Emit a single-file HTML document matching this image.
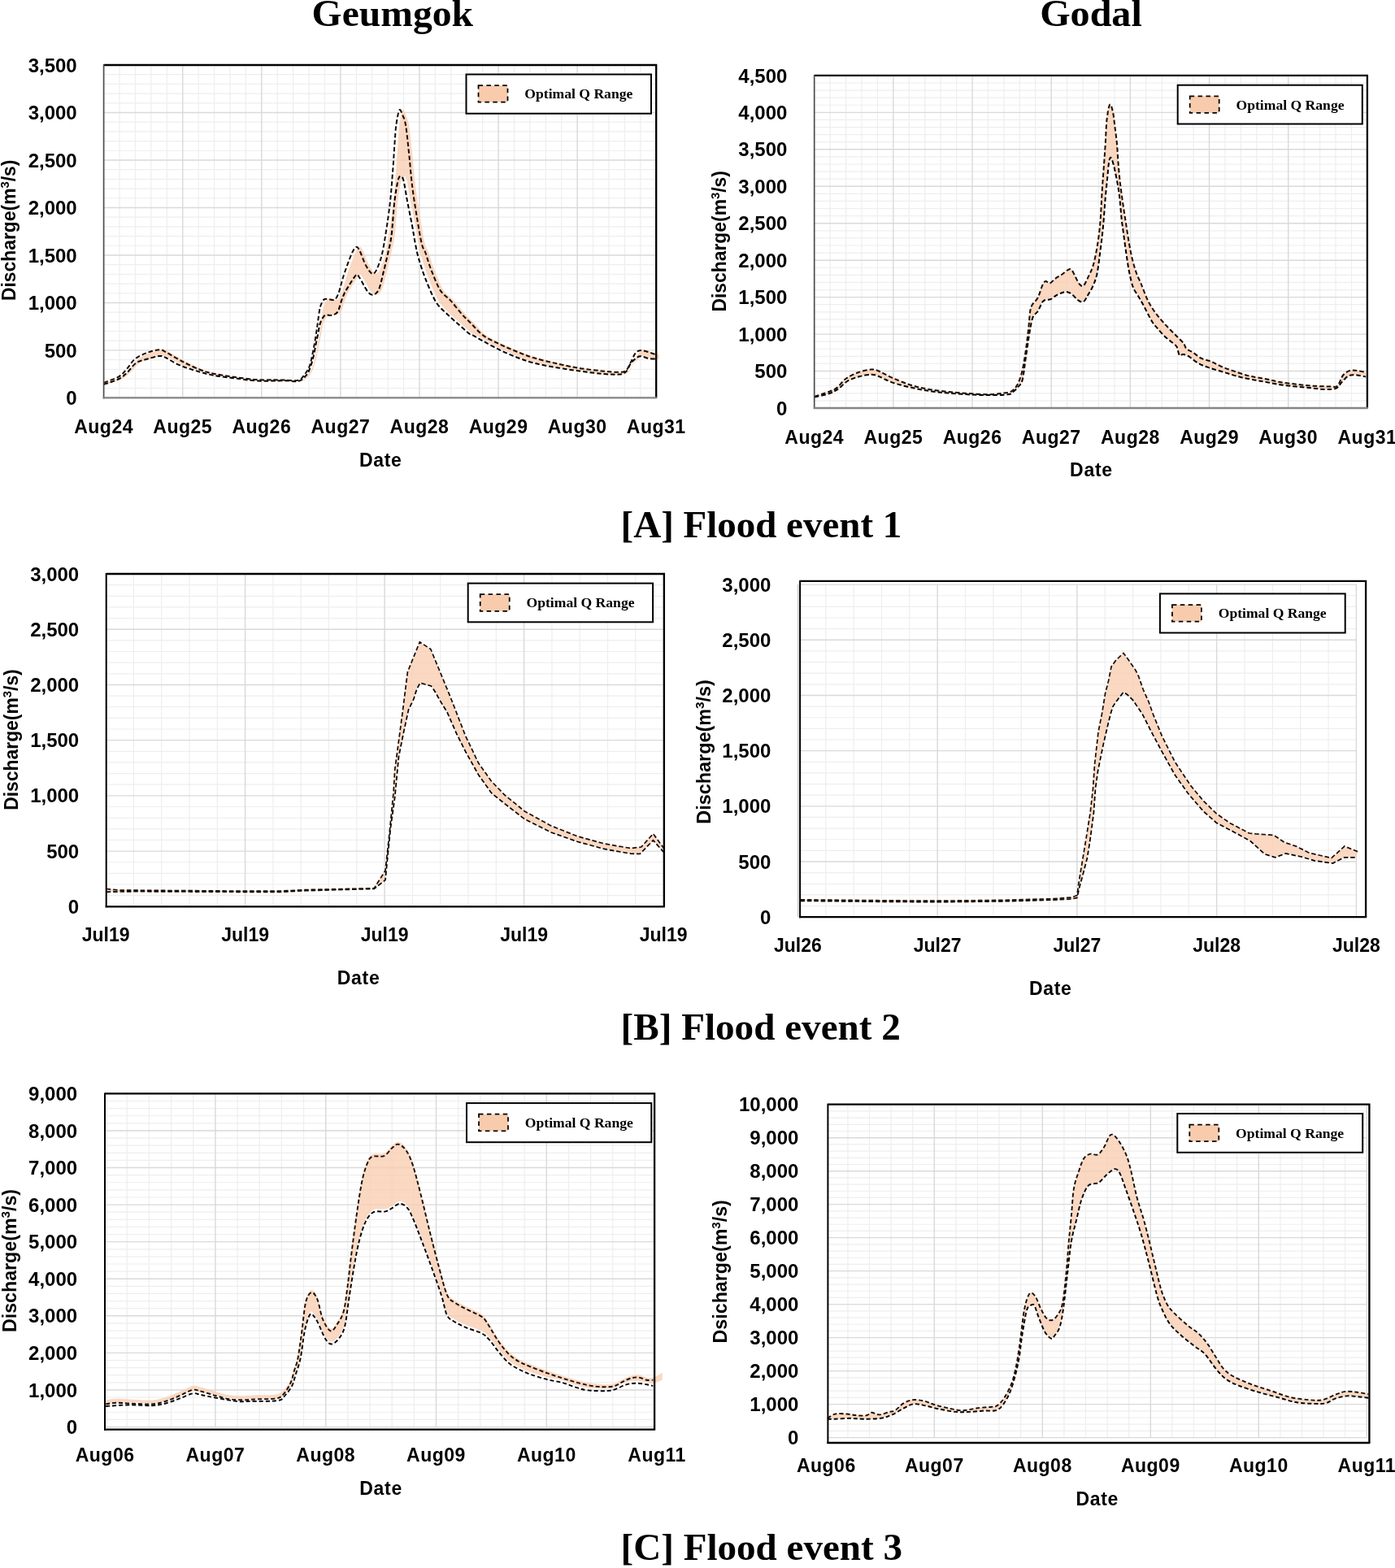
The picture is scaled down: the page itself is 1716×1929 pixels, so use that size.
<!DOCTYPE html><html><head><meta charset="utf-8"><title>Optimal Q Range</title><style>html,body{margin:0;padding:0;background:#fff;overflow:hidden;}svg{display:block;}.s{font-family:"Liberation Sans",Arial,sans-serif;font-weight:bold;font-size:23px;fill:#000}.t{font-family:"Liberation Serif","Times New Roman",serif;font-weight:bold;fill:#000}.lg{font-family:"Liberation Serif","Times New Roman",serif;font-weight:bold;font-size:17.6px;fill:#000}</style></head><body>
<svg width="1716" height="1929" viewBox="0 0 1716 1929">
<rect width="1716" height="1929" fill="#fff"/>
<g class="t">
<text x="383.6" y="32.2" font-size="47" textLength="198.4" lengthAdjust="spacingAndGlyphs">Geumgok</text>
<text x="1279.2" y="32.2" font-size="47" textLength="125.6" lengthAdjust="spacingAndGlyphs">Godal</text>
<text x="763.6" y="660.9" font-size="46" textLength="345.7" lengthAdjust="spacingAndGlyphs">[A] Flood event 1</text>
<text x="763.6" y="1278.7" font-size="46" textLength="344.2" lengthAdjust="spacingAndGlyphs">[B] Flood event 2</text>
<text x="763.6" y="1919.3" font-size="46" textLength="346.4" lengthAdjust="spacingAndGlyphs">[C] Flood event 3</text>
</g>
<g>
<path d="M127.6,477.7H807.2 M127.6,466.01H807.2 M127.6,454.31H807.2 M127.6,442.61H807.2 M127.6,419.22H807.2 M127.6,407.52H807.2 M127.6,395.82H807.2 M127.6,384.13H807.2 M127.6,360.73H807.2 M127.6,349.03H807.2 M127.6,337.34H807.2 M127.6,325.64H807.2 M127.6,302.25H807.2 M127.6,290.55H807.2 M127.6,278.85H807.2 M127.6,267.15H807.2 M127.6,243.76H807.2 M127.6,232.06H807.2 M127.6,220.37H807.2 M127.6,208.67H807.2 M127.6,185.27H807.2 M127.6,173.58H807.2 M127.6,161.88H807.2 M127.6,150.18H807.2 M127.6,126.79H807.2 M127.6,115.09H807.2 M127.6,103.39H807.2 M127.6,91.7H807.2 M147.02,80V489.4 M166.44,80V489.4 M185.85,80V489.4 M205.27,80V489.4 M244.11,80V489.4 M263.53,80V489.4 M282.94,80V489.4 M302.36,80V489.4 M341.2,80V489.4 M360.62,80V489.4 M380.03,80V489.4 M399.45,80V489.4 M438.29,80V489.4 M457.71,80V489.4 M477.12,80V489.4 M496.54,80V489.4 M535.38,80V489.4 M554.8,80V489.4 M574.21,80V489.4 M593.63,80V489.4 M632.47,80V489.4 M651.89,80V489.4 M671.3,80V489.4 M690.72,80V489.4 M729.56,80V489.4 M748.98,80V489.4 M768.39,80V489.4 M787.81,80V489.4" stroke="#eeeeee" stroke-width="1.2" fill="none"/>
<path d="M127.6,489.4H807.2 M127.6,430.91H807.2 M127.6,372.43H807.2 M127.6,313.94H807.2 M127.6,255.46H807.2 M127.6,196.97H807.2 M127.6,138.49H807.2 M127.6,80H807.2 M224.69,80V489.4 M321.78,80V489.4 M418.87,80V489.4 M515.96,80V489.4 M613.05,80V489.4 M710.14,80V489.4 M807.23,80V489.4" stroke="#d9d9d9" stroke-width="1.4" fill="none"/>
<path d="M131.7,470.8 C134.85,469.52 145.82,466 150.6,463.1 C155.38,460.2 157.13,457 160.4,453.4 C163.67,449.8 166.02,444.77 170.2,441.5 C174.38,438.23 180.5,435.67 185.5,433.8 C190.5,431.93 196.47,430.42 200.2,430.3 C203.93,430.18 203.12,430.65 207.9,433.1 C212.68,435.55 221.9,441.38 228.9,445 C235.9,448.62 243.6,452.35 249.9,454.8 C256.2,457.25 259.72,458.2 266.7,459.7 C273.68,461.2 282.95,462.57 291.8,463.8 C300.65,465.03 311.63,466.52 319.8,467.1 C327.97,467.68 335.1,467.22 340.8,467.3 C346.5,467.38 348.88,467.55 354,467.6 C359.12,467.65 367.23,468.95 371.5,467.6 C375.77,466.25 377.42,462.3 379.6,459.5 C381.78,456.7 383.25,454.22 384.6,450.8 C385.95,447.38 386.67,443.57 387.7,439 C388.73,434.43 389.87,428.58 390.8,423.4 C391.73,418.22 392.58,412.57 393.3,407.9 C394.02,403.23 394.48,399.75 395.1,395.4 C395.72,391.05 396.37,385.22 397,381.8 C397.63,378.38 397.97,377.13 398.9,374.9 C399.83,372.67 401.15,369.53 402.6,368.4 C404.05,367.27 405.63,368 407.6,368.1 C409.57,368.2 412.63,369.42 414.4,369 C416.17,368.58 417.05,367.42 418.2,365.6 C419.35,363.78 420.35,360.92 421.3,358.1 C422.25,355.28 422.77,352.58 423.9,348.7 C425.03,344.82 426,340.85 428.1,334.8 C430.2,328.75 434.17,317.53 436.5,312.4 C438.83,307.27 440.47,304.7 442.1,304 C443.73,303.3 444.2,304.23 446.3,308.2 C448.4,312.17 451.9,323.02 454.7,327.8 C457.5,332.58 460.53,337.37 463.1,336.9 C465.67,336.43 468,330.48 470.1,325 C472.2,319.52 473.48,316.02 475.7,304 C477.92,291.98 481.47,268.82 483.4,252.9 C485.33,236.98 486.32,220.82 487.3,208.5 C488.28,196.18 488.63,188.03 489.3,179 C489.97,169.97 490.32,161.53 491.3,154.3 C492.28,147.07 493.88,137.73 495.2,135.6 C496.52,133.47 497.88,138.38 499.2,141.5 C500.52,144.62 501.78,146.42 503.1,154.3 C504.42,162.18 505.78,176.48 507.1,188.8 C508.42,201.12 509.37,215.07 511,228.2 C512.63,241.33 514.93,255.63 516.9,267.6 C518.87,279.57 521.05,292.77 522.8,300 C524.55,307.23 525.47,305.67 527.4,311 C529.33,316.33 531.37,324.32 534.4,332 C537.43,339.68 541.63,350.82 545.6,357.1 C549.57,363.38 553.77,364.8 558.2,369.7 C562.63,374.6 567.9,381.72 572.2,386.5 C576.5,391.28 579.7,394.08 584,398.4 C588.3,402.72 592.17,408.2 598,412.4 C603.83,416.6 612,420.22 619,423.6 C626,426.98 633.02,429.92 640,432.7 C646.98,435.48 652.75,437.87 660.9,440.3 C669.05,442.73 679.57,445.2 688.9,447.3 C698.23,449.4 707.58,451.38 716.9,452.9 C726.22,454.42 736.65,455.58 744.8,456.4 C752.95,457.22 760.9,457.92 765.8,457.8 C770.7,457.68 771.87,457.68 774.2,455.7 C776.53,453.72 777.93,449.38 779.8,445.9 C781.67,442.42 783.53,437.23 785.4,434.8 C787.27,432.37 788.9,431.77 791,431.3 C793.1,430.83 794.73,431.18 798,432 C801.27,432.82 808.5,435.5 810.6,436.2 L810.6,441.7 C809.2,441.58 805.23,441.57 802.2,441 C799.17,440.43 794.97,438.42 792.4,438.3 C789.83,438.18 788.9,438.8 786.8,440.3 C784.7,441.8 781.9,444.5 779.8,447.3 C777.7,450.1 776.53,454.88 774.2,457.1 C771.87,459.32 770.7,460.13 765.8,460.6 C760.9,461.07 752.95,460.6 744.8,459.9 C736.65,459.2 726.22,457.68 716.9,456.4 C707.58,455.12 698.23,453.83 688.9,452.2 C679.57,450.57 669.05,448.68 660.9,446.6 C652.75,444.52 646.98,442.37 640,439.7 C633.02,437.03 626,433.98 619,430.6 C612,427.22 603.83,422.58 598,419.4 C592.17,416.22 586.9,413.07 584,411.5 C581.1,409.93 583.5,412.3 580.6,410 C577.7,407.7 571.27,401.85 566.6,397.7 C561.93,393.55 557.03,389.53 552.6,385.1 C548.17,380.67 544.2,378.1 540,371.1 C535.8,364.1 530.9,351.95 527.4,343.1 C523.9,334.25 521.08,325.18 519,318 C516.92,310.82 516.23,306.75 514.9,300 C513.57,293.25 512.63,286.18 511,277.5 C509.37,268.82 506.9,257.27 505.1,247.9 C503.3,238.53 501.68,226.47 500.2,221.3 C498.72,216.13 497.35,216.57 496.2,216.9 C495.05,217.23 494.45,218.13 493.3,223.3 C492.15,228.47 490.6,236.78 489.3,247.9 C488,259.02 486.83,279.48 485.5,290 C484.17,300.52 482.93,303.53 481.3,311 C479.67,318.47 477.57,327.35 475.7,334.8 C473.83,342.25 472.2,351.05 470.1,355.7 C468,360.35 465.43,362.23 463.1,362.7 C460.77,363.17 458.9,362 456.1,358.5 C453.3,355 448.63,345.07 446.3,341.7 C443.97,338.33 444.43,336.43 442.1,338.3 C439.77,340.17 434.73,349.08 432.3,352.9 C429.87,356.72 428.92,358.25 427.5,361.2 C426.08,364.15 424.95,367.28 423.8,370.6 C422.65,373.92 421.65,378.62 420.6,381.1 C419.55,383.58 419.05,384.35 417.5,385.5 C415.95,386.65 413.37,387.68 411.3,388 C409.23,388.32 406.75,386.98 405.1,387.4 C403.45,387.82 402.65,388.63 401.4,390.5 C400.15,392.37 398.65,395.18 397.6,398.6 C396.55,402.02 395.93,406.87 395.1,411 C394.27,415.13 393.53,418.73 392.6,423.4 C391.67,428.07 390.63,434.32 389.5,439 C388.37,443.68 387.15,447.87 385.8,451.5 C384.45,455.13 383.78,457.9 381.4,460.8 C379.02,463.7 376.07,467.65 371.5,468.9 C366.93,470.15 362.62,468.37 354,468.3 C345.38,468.23 330.17,469.02 319.8,468.5 C309.43,467.98 300.65,466.33 291.8,465.2 C282.95,464.07 273.68,462.97 266.7,461.7 C259.72,460.43 256.9,459.68 249.9,457.6 C242.9,455.52 231.7,452.13 224.7,449.2 C217.7,446.27 211.98,441.87 207.9,440 C203.82,438.13 203.93,437.75 200.2,438 C196.47,438.25 190.27,440.1 185.5,441.5 C180.73,442.9 175.78,443.6 171.6,446.4 C167.42,449.2 163.9,455.03 160.4,458.3 C156.9,461.57 155.38,463.57 150.6,466 C145.82,468.43 134.85,471.75 131.7,472.9 Z" fill="#F8CBAD" fill-opacity="0.75" stroke="none"/>
<path d="M127.7,472.9 C130.85,471.75 141.82,468.43 146.6,466 C151.38,463.57 152.9,461.57 156.4,458.3 C159.9,455.03 163.42,449.2 167.6,446.4 C171.78,443.6 176.73,442.9 181.5,441.5 C186.27,440.1 192.47,438.25 196.2,438 C199.93,437.75 199.82,438.13 203.9,440 C207.98,441.87 213.7,446.27 220.7,449.2 C227.7,452.13 238.9,455.52 245.9,457.6 C252.9,459.68 255.72,460.43 262.7,461.7 C269.68,462.97 278.95,464.07 287.8,465.2 C296.65,466.33 305.43,467.98 315.8,468.5 C326.17,469.02 341.38,468.23 350,468.3 C358.62,468.37 362.93,470.15 367.5,468.9 C372.07,467.65 375.02,463.7 377.4,460.8 C379.78,457.9 380.45,455.13 381.8,451.5 C383.15,447.87 384.37,443.68 385.5,439 C386.63,434.32 387.67,428.07 388.6,423.4 C389.53,418.73 390.27,415.13 391.1,411 C391.93,406.87 392.55,402.02 393.6,398.6 C394.65,395.18 396.15,392.37 397.4,390.5 C398.65,388.63 399.45,387.82 401.1,387.4 C402.75,386.98 405.23,388.32 407.3,388 C409.37,387.68 411.95,386.65 413.5,385.5 C415.05,384.35 415.55,383.58 416.6,381.1 C417.65,378.62 418.65,373.92 419.8,370.6 C420.95,367.28 422.08,364.15 423.5,361.2 C424.92,358.25 425.87,356.72 428.3,352.9 C430.73,349.08 435.77,340.17 438.1,338.3 C440.43,336.43 439.97,338.33 442.3,341.7 C444.63,345.07 449.3,355 452.1,358.5 C454.9,362 456.77,363.17 459.1,362.7 C461.43,362.23 464,360.35 466.1,355.7 C468.2,351.05 469.83,342.25 471.7,334.8 C473.57,327.35 475.67,318.47 477.3,311 C478.93,303.53 480.17,300.52 481.5,290 C482.83,279.48 484,259.02 485.3,247.9 C486.6,236.78 488.15,228.47 489.3,223.3 C490.45,218.13 491.05,217.23 492.2,216.9 C493.35,216.57 494.72,216.13 496.2,221.3 C497.68,226.47 499.3,238.53 501.1,247.9 C502.9,257.27 505.37,268.82 507,277.5 C508.63,286.18 509.57,293.25 510.9,300 C512.23,306.75 512.92,310.82 515,318 C517.08,325.18 519.9,334.25 523.4,343.1 C526.9,351.95 531.8,364.1 536,371.1 C540.2,378.1 544.17,380.67 548.6,385.1 C553.03,389.53 557.93,393.55 562.6,397.7 C567.27,401.85 573.7,407.7 576.6,410 C579.5,412.3 577.1,409.93 580,411.5 C582.9,413.07 588.17,416.22 594,419.4 C599.83,422.58 608,427.22 615,430.6 C622,433.98 629.02,437.03 636,439.7 C642.98,442.37 648.75,444.52 656.9,446.6 C665.05,448.68 675.57,450.57 684.9,452.2 C694.23,453.83 703.58,455.12 712.9,456.4 C722.22,457.68 732.65,459.2 740.8,459.9 C748.95,460.6 756.9,461.07 761.8,460.6 C766.7,460.13 767.87,459.32 770.2,457.1 C772.53,454.88 773.7,450.1 775.8,447.3 C777.9,444.5 780.7,441.8 782.8,440.3 C784.9,438.8 785.83,438.18 788.4,438.3 C790.97,438.42 795.17,440.43 798.2,441 C801.23,441.57 805.2,441.58 806.6,441.7" fill="none" stroke="#000" stroke-width="2.0" stroke-dasharray="5.5 3"/>
<path d="M127.7,470.8 C130.85,469.52 141.82,466 146.6,463.1 C151.38,460.2 153.13,457 156.4,453.4 C159.67,449.8 162.02,444.77 166.2,441.5 C170.38,438.23 176.5,435.67 181.5,433.8 C186.5,431.93 192.47,430.42 196.2,430.3 C199.93,430.18 199.12,430.65 203.9,433.1 C208.68,435.55 217.9,441.38 224.9,445 C231.9,448.62 239.6,452.35 245.9,454.8 C252.2,457.25 255.72,458.2 262.7,459.7 C269.68,461.2 278.95,462.57 287.8,463.8 C296.65,465.03 307.63,466.52 315.8,467.1 C323.97,467.68 331.1,467.22 336.8,467.3 C342.5,467.38 344.88,467.55 350,467.6 C355.12,467.65 363.23,468.95 367.5,467.6 C371.77,466.25 373.42,462.3 375.6,459.5 C377.78,456.7 379.25,454.22 380.6,450.8 C381.95,447.38 382.67,443.57 383.7,439 C384.73,434.43 385.87,428.58 386.8,423.4 C387.73,418.22 388.58,412.57 389.3,407.9 C390.02,403.23 390.48,399.75 391.1,395.4 C391.72,391.05 392.37,385.22 393,381.8 C393.63,378.38 393.97,377.13 394.9,374.9 C395.83,372.67 397.15,369.53 398.6,368.4 C400.05,367.27 401.63,368 403.6,368.1 C405.57,368.2 408.63,369.42 410.4,369 C412.17,368.58 413.05,367.42 414.2,365.6 C415.35,363.78 416.35,360.92 417.3,358.1 C418.25,355.28 418.77,352.58 419.9,348.7 C421.03,344.82 422,340.85 424.1,334.8 C426.2,328.75 430.17,317.53 432.5,312.4 C434.83,307.27 436.47,304.7 438.1,304 C439.73,303.3 440.2,304.23 442.3,308.2 C444.4,312.17 447.9,323.02 450.7,327.8 C453.5,332.58 456.53,337.37 459.1,336.9 C461.67,336.43 464,330.48 466.1,325 C468.2,319.52 469.48,316.02 471.7,304 C473.92,291.98 477.47,268.82 479.4,252.9 C481.33,236.98 482.32,220.82 483.3,208.5 C484.28,196.18 484.63,188.03 485.3,179 C485.97,169.97 486.32,161.53 487.3,154.3 C488.28,147.07 489.88,137.73 491.2,135.6 C492.52,133.47 493.88,138.38 495.2,141.5 C496.52,144.62 497.78,146.42 499.1,154.3 C500.42,162.18 501.78,176.48 503.1,188.8 C504.42,201.12 505.37,215.07 507,228.2 C508.63,241.33 510.93,255.63 512.9,267.6 C514.87,279.57 517.05,292.77 518.8,300 C520.55,307.23 521.47,305.67 523.4,311 C525.33,316.33 527.37,324.32 530.4,332 C533.43,339.68 537.63,350.82 541.6,357.1 C545.57,363.38 549.77,364.8 554.2,369.7 C558.63,374.6 563.9,381.72 568.2,386.5 C572.5,391.28 575.7,394.08 580,398.4 C584.3,402.72 588.17,408.2 594,412.4 C599.83,416.6 608,420.22 615,423.6 C622,426.98 629.02,429.92 636,432.7 C642.98,435.48 648.75,437.87 656.9,440.3 C665.05,442.73 675.57,445.2 684.9,447.3 C694.23,449.4 703.58,451.38 712.9,452.9 C722.22,454.42 732.65,455.58 740.8,456.4 C748.95,457.22 756.9,457.92 761.8,457.8 C766.7,457.68 767.87,457.68 770.2,455.7 C772.53,453.72 773.93,449.38 775.8,445.9 C777.67,442.42 779.53,437.23 781.4,434.8 C783.27,432.37 784.9,431.77 787,431.3 C789.1,430.83 790.73,431.18 794,432 C797.27,432.82 804.5,435.5 806.6,436.2" fill="none" stroke="#1a0d05" stroke-width="2.0" stroke-dasharray="5.5 3"/>
<path d="M127.6,80H807.2V489.4" fill="none" stroke="#000" stroke-width="2.3"/>
<path d="M127.6,79V490.4" fill="none" stroke="#4d4d4d" stroke-width="1.7"/>
<path d="M126.6,489.4H808.2" fill="none" stroke="#858585" stroke-width="2.3"/>
<rect x="573.5" y="91.5" width="227.5" height="48.2" fill="#fff" stroke="#000" stroke-width="2"/>
<rect x="588.5" y="105.1" width="36" height="20.6" fill="#F8CBAD" stroke="#000" stroke-width="1.75" stroke-dasharray="5.5 4.4"/>
<text class="lg" x="645.3" y="121.3" textLength="133" lengthAdjust="spacingAndGlyphs">Optimal Q Range</text>
<g class="s" style="font-size:24px" text-anchor="end"><text x="94.7" y="498">0</text><text x="94.7" y="439.51">500</text><text x="94.7" y="381.03">1,000</text><text x="94.7" y="322.54">1,500</text><text x="94.7" y="264.06">2,000</text><text x="94.7" y="205.57">2,500</text><text x="94.7" y="147.09">3,000</text><text x="94.7" y="88.6">3,500</text></g>
<g class="s" text-anchor="middle" style="letter-spacing:0.5px"><text x="127.6" y="532.6">Aug24</text><text x="224.69" y="532.6">Aug25</text><text x="321.78" y="532.6">Aug26</text><text x="418.87" y="532.6">Aug27</text><text x="515.96" y="532.6">Aug28</text><text x="613.05" y="532.6">Aug29</text><text x="710.14" y="532.6">Aug30</text><text x="807.23" y="532.6">Aug31</text></g>
<text class="s" x="468.25" y="573.7" text-anchor="middle" style="letter-spacing:0.7px">Date</text>
<text class="s" transform="translate(19.2,283.3) rotate(-90)" text-anchor="middle" textLength="173.5" lengthAdjust="spacingAndGlyphs">Discharge(m<tspan font-size="15" dy="-8">3</tspan><tspan dy="8">/s)</tspan></text>
</g>
<g>
<path d="M1001.7,492.91H1681.9 M1001.7,483.82H1681.9 M1001.7,474.73H1681.9 M1001.7,465.64H1681.9 M1001.7,447.45H1681.9 M1001.7,438.36H1681.9 M1001.7,429.27H1681.9 M1001.7,420.18H1681.9 M1001.7,402H1681.9 M1001.7,392.91H1681.9 M1001.7,383.82H1681.9 M1001.7,374.72H1681.9 M1001.7,356.54H1681.9 M1001.7,347.45H1681.9 M1001.7,338.36H1681.9 M1001.7,329.27H1681.9 M1001.7,311.09H1681.9 M1001.7,302H1681.9 M1001.7,292.9H1681.9 M1001.7,283.81H1681.9 M1001.7,265.63H1681.9 M1001.7,256.54H1681.9 M1001.7,247.45H1681.9 M1001.7,238.36H1681.9 M1001.7,220.18H1681.9 M1001.7,211.08H1681.9 M1001.7,201.99H1681.9 M1001.7,192.9H1681.9 M1001.7,174.72H1681.9 M1001.7,165.63H1681.9 M1001.7,156.54H1681.9 M1001.7,147.45H1681.9 M1001.7,129.26H1681.9 M1001.7,120.17H1681.9 M1001.7,111.08H1681.9 M1001.7,101.99H1681.9 M1021.13,92.9V502 M1040.57,92.9V502 M1060,92.9V502 M1079.44,92.9V502 M1118.3,92.9V502 M1137.74,92.9V502 M1157.17,92.9V502 M1176.61,92.9V502 M1215.47,92.9V502 M1234.91,92.9V502 M1254.34,92.9V502 M1273.78,92.9V502 M1312.64,92.9V502 M1332.08,92.9V502 M1351.51,92.9V502 M1370.95,92.9V502 M1409.81,92.9V502 M1429.25,92.9V502 M1448.68,92.9V502 M1468.12,92.9V502 M1506.98,92.9V502 M1526.42,92.9V502 M1545.85,92.9V502 M1565.29,92.9V502 M1604.15,92.9V502 M1623.59,92.9V502 M1643.02,92.9V502 M1662.46,92.9V502" stroke="#eeeeee" stroke-width="1.2" fill="none"/>
<path d="M1001.7,502H1681.9 M1001.7,456.54H1681.9 M1001.7,411.09H1681.9 M1001.7,365.63H1681.9 M1001.7,320.18H1681.9 M1001.7,274.72H1681.9 M1001.7,229.27H1681.9 M1001.7,183.81H1681.9 M1001.7,138.36H1681.9 M1001.7,92.9H1681.9 M1098.87,92.9V502 M1196.04,92.9V502 M1293.21,92.9V502 M1390.38,92.9V502 M1487.55,92.9V502 M1584.72,92.9V502 M1681.89,92.9V502" stroke="#d9d9d9" stroke-width="1.4" fill="none"/>
<path d="M1002,487.7 C1004.92,486.75 1014.95,483.77 1019.5,482 C1024.05,480.23 1025.77,479.82 1029.3,477.1 C1032.83,474.38 1036.35,468.83 1040.7,465.7 C1045.05,462.57 1050.23,460.15 1055.4,458.3 C1060.57,456.45 1067.35,454.87 1071.7,454.6 C1076.05,454.33 1077.15,454.98 1081.5,456.7 C1085.85,458.42 1091.28,462.05 1097.8,464.9 C1104.32,467.75 1113.27,471.5 1120.6,473.8 C1127.93,476.1 1134.18,477.33 1141.8,478.7 C1149.42,480.07 1158.13,481.12 1166.3,482 C1174.47,482.88 1182.63,483.45 1190.8,484 C1198.97,484.55 1207.97,485.37 1215.3,485.3 C1222.63,485.23 1229.92,484.28 1234.8,483.6 C1239.68,482.92 1241.87,482.83 1244.6,481.2 C1247.33,479.57 1249.22,477.33 1251.2,473.8 C1253.18,470.27 1254.95,465.63 1256.5,460 C1258.05,454.37 1259.12,448.73 1260.5,440 C1261.88,431.27 1263.68,417.1 1264.8,407.6 C1265.92,398.1 1266.38,388.42 1267.2,383 C1268.02,377.58 1268.13,377.88 1269.7,375.1 C1271.27,372.32 1274.47,370.4 1276.6,366.3 C1278.73,362.2 1280.85,353.87 1282.5,350.5 C1284.15,347.13 1285.02,346.43 1286.5,346.1 C1287.98,345.77 1289.43,349.08 1291.4,348.5 C1293.37,347.92 1295.83,344.4 1298.3,342.6 C1300.77,340.8 1303.73,339.42 1306.2,337.7 C1308.67,335.98 1311.13,333.28 1313.1,332.3 C1315.07,331.32 1316.37,330.42 1318,331.8 C1319.63,333.18 1321.27,337.65 1322.9,340.6 C1324.53,343.55 1326.15,347.68 1327.8,349.5 C1329.45,351.32 1330.98,352.98 1332.8,351.5 C1334.62,350.02 1336.73,344.72 1338.7,340.6 C1340.67,336.48 1342.8,332.87 1344.6,326.8 C1346.4,320.73 1348.05,312.83 1349.5,304.2 C1350.95,295.57 1352.27,286.63 1353.3,275 C1354.33,263.37 1354.9,246.7 1355.7,234.4 C1356.5,222.1 1357.42,210.88 1358.1,201.2 C1358.78,191.52 1359.23,185.28 1359.8,176.3 C1360.37,167.32 1360.6,155.23 1361.5,147.3 C1362.4,139.37 1363.97,130.35 1365.2,128.7 C1366.43,127.05 1367.87,132.92 1368.9,137.4 C1369.93,141.88 1370.57,149.12 1371.4,155.6 C1372.23,162.08 1373.2,168.7 1373.9,176.3 C1374.6,183.9 1374.92,192.9 1375.6,201.2 C1376.28,209.5 1377.03,217.8 1378,226.1 C1378.97,234.4 1380.23,242.92 1381.4,251 C1382.57,259.08 1383.75,266.55 1385,274.6 C1386.25,282.65 1387.58,291.9 1388.9,299.3 C1390.22,306.7 1391.42,312.93 1392.9,319 C1394.38,325.07 1396.17,331.03 1397.8,335.7 C1399.43,340.37 1401.4,343.95 1402.7,347 C1404,350.05 1404.18,350.5 1405.6,354 C1407.02,357.5 1409.03,363.5 1411.2,368 C1413.37,372.5 1415.8,376.82 1418.6,381 C1421.4,385.18 1424.88,389.37 1428,393.1 C1431.12,396.83 1434.2,400.13 1437.3,403.4 C1440.4,406.67 1443.8,409.9 1446.6,412.7 C1449.4,415.5 1452.38,418.33 1454.1,420.2 C1455.82,422.07 1455.97,422.35 1456.9,423.9 C1457.83,425.45 1458,427.95 1459.7,429.5 C1461.4,431.05 1464.15,431.33 1467.1,433.2 C1470.05,435.07 1473.58,438.77 1477.4,440.7 C1481.22,442.63 1485.8,443.08 1490,444.8 C1494.2,446.52 1497.93,449.03 1502.6,451 C1507.27,452.97 1512.57,454.75 1518,456.6 C1523.43,458.45 1530.53,460.82 1535.2,462.1 C1539.87,463.38 1541.87,463.52 1546,464.3 C1550.13,465.08 1555.35,465.87 1560,466.8 C1564.65,467.73 1568.08,468.92 1573.9,469.9 C1579.72,470.88 1587.9,471.88 1594.9,472.7 C1601.9,473.52 1608.92,474.33 1615.9,474.8 C1622.88,475.27 1631.92,475.5 1636.8,475.5 C1641.68,475.5 1642.63,477.13 1645.2,474.8 C1647.77,472.47 1649.63,464.65 1652.2,461.5 C1654.77,458.35 1657.8,456.83 1660.6,455.9 C1663.4,454.97 1665.73,455.55 1669,455.9 C1672.27,456.25 1678.33,457.65 1680.2,458 L1680.2,463.6 C1678.33,463.25 1672.5,461.73 1669,461.5 C1665.5,461.27 1662.23,460.8 1659.2,462.2 C1656.17,463.6 1653.37,467.33 1650.8,469.9 C1648.23,472.47 1647.3,476.08 1643.8,477.6 C1640.3,479.12 1635.62,479.12 1629.8,479 C1623.98,478.88 1617.05,477.72 1608.9,476.9 C1600.75,476.08 1589.05,475.17 1580.9,474.1 C1572.75,473.03 1566.07,471.57 1560,470.5 C1553.93,469.43 1550.18,468.78 1544.5,467.7 C1538.82,466.62 1532.12,465.55 1525.9,464 C1519.68,462.45 1513.42,460.27 1507.2,458.4 C1500.98,456.53 1494.03,454.67 1488.6,452.8 C1483.17,450.93 1479.12,449.68 1474.6,447.2 C1470.08,444.72 1464.77,439.77 1461.5,437.9 C1458.23,436.03 1456.78,436.15 1455,436 C1453.22,435.85 1452.03,438.55 1450.8,437 C1449.57,435.45 1448.92,429.18 1447.6,426.7 C1446.28,424.22 1445.4,424.27 1442.9,422.1 C1440.4,419.93 1435.87,416.82 1432.6,413.7 C1429.33,410.58 1425.93,406.52 1423.3,403.4 C1420.67,400.28 1419.43,399.35 1416.8,395 C1414.17,390.65 1410.3,382.47 1407.5,377.3 C1404.7,372.13 1402.28,367.98 1400,364 C1397.72,360.02 1395.65,358.45 1393.8,353.4 C1391.95,348.35 1390.37,341.08 1388.9,333.7 C1387.43,326.32 1386.32,318.12 1385,309.1 C1383.68,300.08 1381.88,286.12 1381,279.6 C1380.12,273.08 1380.33,276.15 1379.7,270 C1379.07,263.85 1378.03,250.02 1377.2,242.7 C1376.37,235.38 1375.67,231.63 1374.7,226.1 C1373.73,220.57 1372.37,213.92 1371.4,209.5 C1370.43,205.08 1369.8,202.23 1368.9,199.6 C1368,196.97 1366.83,193.43 1366,193.7 C1365.17,193.97 1364.52,197.18 1363.9,201.2 C1363.28,205.22 1362.98,210.88 1362.3,217.8 C1361.62,224.72 1360.7,232.4 1359.8,242.7 C1358.9,253 1357.97,268.53 1356.9,279.6 C1355.83,290.67 1354.63,299.58 1353.4,309.1 C1352.17,318.62 1350.97,329.63 1349.5,336.7 C1348.03,343.77 1346.4,347.23 1344.6,351.5 C1342.8,355.77 1340.67,359.02 1338.7,362.3 C1336.73,365.58 1334.93,370.05 1332.8,371.2 C1330.67,372.35 1328.2,370.68 1325.9,369.2 C1323.6,367.72 1321.3,364.02 1319,362.3 C1316.7,360.58 1314.23,359.23 1312.1,358.9 C1309.97,358.57 1308.33,359.57 1306.2,360.3 C1304.07,361.03 1301.6,361.98 1299.3,363.3 C1297,364.62 1295.03,367.05 1292.4,368.2 C1289.77,369.35 1286.13,367.73 1283.5,370.2 C1280.87,372.67 1278.73,379.72 1276.6,383 C1274.47,386.28 1272.35,385.8 1270.7,389.9 C1269.05,394 1268.18,399.25 1266.7,407.6 C1265.22,415.95 1263.3,430.05 1261.8,440 C1260.3,449.95 1259.2,461.38 1257.7,467.3 C1256.2,473.22 1254.7,473.05 1252.8,475.5 C1250.9,477.95 1248.48,480.37 1246.3,482 C1244.12,483.63 1244.87,484.62 1239.7,485.3 C1234.53,485.98 1223.45,486.1 1215.3,486.1 C1207.15,486.1 1198.97,485.72 1190.8,485.3 C1182.63,484.88 1173.92,484.28 1166.3,483.6 C1158.68,482.92 1152.43,482.28 1145.1,481.2 C1137.77,480.12 1130.18,478.87 1122.3,477.1 C1114.42,475.33 1104.6,472.92 1097.8,470.6 C1091,468.28 1085.85,464.83 1081.5,463.2 C1077.15,461.57 1075.78,460.8 1071.7,460.8 C1067.62,460.8 1061.9,461.83 1057,463.2 C1052.1,464.57 1046.65,466.42 1042.3,469 C1037.95,471.58 1034.7,476.13 1030.9,478.7 C1027.1,481.27 1024.32,482.77 1019.5,484.4 C1014.68,486.03 1004.92,487.82 1002,488.5 Z" fill="#F8CBAD" fill-opacity="0.75" stroke="none"/>
<path d="M1002,488.5 C1004.92,487.82 1014.68,486.03 1019.5,484.4 C1024.32,482.77 1027.1,481.27 1030.9,478.7 C1034.7,476.13 1037.95,471.58 1042.3,469 C1046.65,466.42 1052.1,464.57 1057,463.2 C1061.9,461.83 1067.62,460.8 1071.7,460.8 C1075.78,460.8 1077.15,461.57 1081.5,463.2 C1085.85,464.83 1091,468.28 1097.8,470.6 C1104.6,472.92 1114.42,475.33 1122.3,477.1 C1130.18,478.87 1137.77,480.12 1145.1,481.2 C1152.43,482.28 1158.68,482.92 1166.3,483.6 C1173.92,484.28 1182.63,484.88 1190.8,485.3 C1198.97,485.72 1207.15,486.1 1215.3,486.1 C1223.45,486.1 1234.53,485.98 1239.7,485.3 C1244.87,484.62 1244.12,483.63 1246.3,482 C1248.48,480.37 1250.9,477.95 1252.8,475.5 C1254.7,473.05 1256.2,473.22 1257.7,467.3 C1259.2,461.38 1260.3,449.95 1261.8,440 C1263.3,430.05 1265.22,415.95 1266.7,407.6 C1268.18,399.25 1269.05,394 1270.7,389.9 C1272.35,385.8 1274.47,386.28 1276.6,383 C1278.73,379.72 1280.87,372.67 1283.5,370.2 C1286.13,367.73 1289.77,369.35 1292.4,368.2 C1295.03,367.05 1297,364.62 1299.3,363.3 C1301.6,361.98 1304.07,361.03 1306.2,360.3 C1308.33,359.57 1309.97,358.57 1312.1,358.9 C1314.23,359.23 1316.7,360.58 1319,362.3 C1321.3,364.02 1323.6,367.72 1325.9,369.2 C1328.2,370.68 1330.67,372.35 1332.8,371.2 C1334.93,370.05 1336.73,365.58 1338.7,362.3 C1340.67,359.02 1342.8,355.77 1344.6,351.5 C1346.4,347.23 1348.03,343.77 1349.5,336.7 C1350.97,329.63 1352.17,318.62 1353.4,309.1 C1354.63,299.58 1355.83,290.67 1356.9,279.6 C1357.97,268.53 1358.9,253 1359.8,242.7 C1360.7,232.4 1361.62,224.72 1362.3,217.8 C1362.98,210.88 1363.28,205.22 1363.9,201.2 C1364.52,197.18 1365.17,193.97 1366,193.7 C1366.83,193.43 1368,196.97 1368.9,199.6 C1369.8,202.23 1370.43,205.08 1371.4,209.5 C1372.37,213.92 1373.73,220.57 1374.7,226.1 C1375.67,231.63 1376.37,235.38 1377.2,242.7 C1378.03,250.02 1379.07,263.85 1379.7,270 C1380.33,276.15 1380.12,273.08 1381,279.6 C1381.88,286.12 1383.68,300.08 1385,309.1 C1386.32,318.12 1387.43,326.32 1388.9,333.7 C1390.37,341.08 1391.95,348.35 1393.8,353.4 C1395.65,358.45 1397.72,360.02 1400,364 C1402.28,367.98 1404.7,372.13 1407.5,377.3 C1410.3,382.47 1414.17,390.65 1416.8,395 C1419.43,399.35 1420.67,400.28 1423.3,403.4 C1425.93,406.52 1429.33,410.58 1432.6,413.7 C1435.87,416.82 1440.4,419.93 1442.9,422.1 C1445.4,424.27 1446.28,424.22 1447.6,426.7 C1448.92,429.18 1449.57,435.45 1450.8,437 C1452.03,438.55 1453.22,435.85 1455,436 C1456.78,436.15 1458.23,436.03 1461.5,437.9 C1464.77,439.77 1470.08,444.72 1474.6,447.2 C1479.12,449.68 1483.17,450.93 1488.6,452.8 C1494.03,454.67 1500.98,456.53 1507.2,458.4 C1513.42,460.27 1519.68,462.45 1525.9,464 C1532.12,465.55 1538.82,466.62 1544.5,467.7 C1550.18,468.78 1553.93,469.43 1560,470.5 C1566.07,471.57 1572.75,473.03 1580.9,474.1 C1589.05,475.17 1600.75,476.08 1608.9,476.9 C1617.05,477.72 1623.98,478.88 1629.8,479 C1635.62,479.12 1640.3,479.12 1643.8,477.6 C1647.3,476.08 1648.23,472.47 1650.8,469.9 C1653.37,467.33 1656.17,463.6 1659.2,462.2 C1662.23,460.8 1665.5,461.27 1669,461.5 C1672.5,461.73 1678.33,463.25 1680.2,463.6" fill="none" stroke="#000" stroke-width="2.0" stroke-dasharray="5.5 3"/>
<path d="M1002,487.7 C1004.92,486.75 1014.95,483.77 1019.5,482 C1024.05,480.23 1025.77,479.82 1029.3,477.1 C1032.83,474.38 1036.35,468.83 1040.7,465.7 C1045.05,462.57 1050.23,460.15 1055.4,458.3 C1060.57,456.45 1067.35,454.87 1071.7,454.6 C1076.05,454.33 1077.15,454.98 1081.5,456.7 C1085.85,458.42 1091.28,462.05 1097.8,464.9 C1104.32,467.75 1113.27,471.5 1120.6,473.8 C1127.93,476.1 1134.18,477.33 1141.8,478.7 C1149.42,480.07 1158.13,481.12 1166.3,482 C1174.47,482.88 1182.63,483.45 1190.8,484 C1198.97,484.55 1207.97,485.37 1215.3,485.3 C1222.63,485.23 1229.92,484.28 1234.8,483.6 C1239.68,482.92 1241.87,482.83 1244.6,481.2 C1247.33,479.57 1249.22,477.33 1251.2,473.8 C1253.18,470.27 1254.95,465.63 1256.5,460 C1258.05,454.37 1259.12,448.73 1260.5,440 C1261.88,431.27 1263.68,417.1 1264.8,407.6 C1265.92,398.1 1266.38,388.42 1267.2,383 C1268.02,377.58 1268.13,377.88 1269.7,375.1 C1271.27,372.32 1274.47,370.4 1276.6,366.3 C1278.73,362.2 1280.85,353.87 1282.5,350.5 C1284.15,347.13 1285.02,346.43 1286.5,346.1 C1287.98,345.77 1289.43,349.08 1291.4,348.5 C1293.37,347.92 1295.83,344.4 1298.3,342.6 C1300.77,340.8 1303.73,339.42 1306.2,337.7 C1308.67,335.98 1311.13,333.28 1313.1,332.3 C1315.07,331.32 1316.37,330.42 1318,331.8 C1319.63,333.18 1321.27,337.65 1322.9,340.6 C1324.53,343.55 1326.15,347.68 1327.8,349.5 C1329.45,351.32 1330.98,352.98 1332.8,351.5 C1334.62,350.02 1336.73,344.72 1338.7,340.6 C1340.67,336.48 1342.8,332.87 1344.6,326.8 C1346.4,320.73 1348.05,312.83 1349.5,304.2 C1350.95,295.57 1352.27,286.63 1353.3,275 C1354.33,263.37 1354.9,246.7 1355.7,234.4 C1356.5,222.1 1357.42,210.88 1358.1,201.2 C1358.78,191.52 1359.23,185.28 1359.8,176.3 C1360.37,167.32 1360.6,155.23 1361.5,147.3 C1362.4,139.37 1363.97,130.35 1365.2,128.7 C1366.43,127.05 1367.87,132.92 1368.9,137.4 C1369.93,141.88 1370.57,149.12 1371.4,155.6 C1372.23,162.08 1373.2,168.7 1373.9,176.3 C1374.6,183.9 1374.92,192.9 1375.6,201.2 C1376.28,209.5 1377.03,217.8 1378,226.1 C1378.97,234.4 1380.23,242.92 1381.4,251 C1382.57,259.08 1383.75,266.55 1385,274.6 C1386.25,282.65 1387.58,291.9 1388.9,299.3 C1390.22,306.7 1391.42,312.93 1392.9,319 C1394.38,325.07 1396.17,331.03 1397.8,335.7 C1399.43,340.37 1401.4,343.95 1402.7,347 C1404,350.05 1404.18,350.5 1405.6,354 C1407.02,357.5 1409.03,363.5 1411.2,368 C1413.37,372.5 1415.8,376.82 1418.6,381 C1421.4,385.18 1424.88,389.37 1428,393.1 C1431.12,396.83 1434.2,400.13 1437.3,403.4 C1440.4,406.67 1443.8,409.9 1446.6,412.7 C1449.4,415.5 1452.38,418.33 1454.1,420.2 C1455.82,422.07 1455.97,422.35 1456.9,423.9 C1457.83,425.45 1458,427.95 1459.7,429.5 C1461.4,431.05 1464.15,431.33 1467.1,433.2 C1470.05,435.07 1473.58,438.77 1477.4,440.7 C1481.22,442.63 1485.8,443.08 1490,444.8 C1494.2,446.52 1497.93,449.03 1502.6,451 C1507.27,452.97 1512.57,454.75 1518,456.6 C1523.43,458.45 1530.53,460.82 1535.2,462.1 C1539.87,463.38 1541.87,463.52 1546,464.3 C1550.13,465.08 1555.35,465.87 1560,466.8 C1564.65,467.73 1568.08,468.92 1573.9,469.9 C1579.72,470.88 1587.9,471.88 1594.9,472.7 C1601.9,473.52 1608.92,474.33 1615.9,474.8 C1622.88,475.27 1631.92,475.5 1636.8,475.5 C1641.68,475.5 1642.63,477.13 1645.2,474.8 C1647.77,472.47 1649.63,464.65 1652.2,461.5 C1654.77,458.35 1657.8,456.83 1660.6,455.9 C1663.4,454.97 1665.73,455.55 1669,455.9 C1672.27,456.25 1678.33,457.65 1680.2,458" fill="none" stroke="#1a0d05" stroke-width="2.0" stroke-dasharray="5.5 3"/>
<path d="M1001.7,92.9H1681.9V502" fill="none" stroke="#000" stroke-width="2.3"/>
<path d="M1001.7,91.9V503" fill="none" stroke="#4d4d4d" stroke-width="1.7"/>
<path d="M1000.7,502H1682.9" fill="none" stroke="#858585" stroke-width="2.3"/>
<rect x="1448.7" y="104.7" width="227.1" height="47.8" fill="#fff" stroke="#000" stroke-width="2"/>
<rect x="1463.7" y="118.3" width="36" height="20.6" fill="#F8CBAD" stroke="#000" stroke-width="1.75" stroke-dasharray="5.5 4.4"/>
<text class="lg" x="1520.5" y="134.5" textLength="133" lengthAdjust="spacingAndGlyphs">Optimal Q Range</text>
<g class="s" style="font-size:24px" text-anchor="end"><text x="968.4" y="510.6">0</text><text x="968.4" y="465.14">500</text><text x="968.4" y="419.69">1,000</text><text x="968.4" y="374.23">1,500</text><text x="968.4" y="328.78">2,000</text><text x="968.4" y="283.32">2,500</text><text x="968.4" y="237.87">3,000</text><text x="968.4" y="192.41">3,500</text><text x="968.4" y="146.96">4,000</text><text x="968.4" y="101.5">4,500</text></g>
<g class="s" text-anchor="middle" style="letter-spacing:0.5px"><text x="1001.7" y="545.5">Aug24</text><text x="1098.87" y="545.5">Aug25</text><text x="1196.04" y="545.5">Aug26</text><text x="1293.21" y="545.5">Aug27</text><text x="1390.38" y="545.5">Aug28</text><text x="1487.55" y="545.5">Aug29</text><text x="1584.72" y="545.5">Aug30</text><text x="1681.89" y="545.5">Aug31</text></g>
<text class="s" x="1342.45" y="586" text-anchor="middle" style="letter-spacing:0.7px">Date</text>
<text class="s" transform="translate(893.2,296.8) rotate(-90)" text-anchor="middle" textLength="173.5" lengthAdjust="spacingAndGlyphs">Discharge(m<tspan font-size="15" dy="-8">3</tspan><tspan dy="8">/s)</tspan></text>
</g>
<g>
<path d="M130.7,1101.66H816.9 M130.7,1088.01H816.9 M130.7,1074.37H816.9 M130.7,1060.73H816.9 M130.7,1033.44H816.9 M130.7,1019.8H816.9 M130.7,1006.15H816.9 M130.7,992.51H816.9 M130.7,965.22H816.9 M130.7,951.58H816.9 M130.7,937.94H816.9 M130.7,924.29H816.9 M130.7,897.01H816.9 M130.7,883.36H816.9 M130.7,869.72H816.9 M130.7,856.08H816.9 M130.7,828.79H816.9 M130.7,815.15H816.9 M130.7,801.5H816.9 M130.7,787.86H816.9 M130.7,760.57H816.9 M130.7,746.93H816.9 M130.7,733.29H816.9 M130.7,719.64H816.9 M164.4,706V1115.3 M198.7,706V1115.3 M233,706V1115.3 M267.3,706V1115.3 M335.9,706V1115.3 M370.2,706V1115.3 M404.5,706V1115.3 M438.8,706V1115.3 M507.4,706V1115.3 M541.7,706V1115.3 M576,706V1115.3 M610.3,706V1115.3 M678.9,706V1115.3 M713.2,706V1115.3 M747.5,706V1115.3 M781.8,706V1115.3" stroke="#eeeeee" stroke-width="1.2" fill="none"/>
<path d="M130.7,1115.3H816.9 M130.7,1047.08H816.9 M130.7,978.87H816.9 M130.7,910.65H816.9 M130.7,842.43H816.9 M130.7,774.22H816.9 M130.7,706H816.9 M301.6,706V1115.3 M473.1,706V1115.3 M644.6,706V1115.3 M816.1,706V1115.3" stroke="#d9d9d9" stroke-width="1.4" fill="none"/>
<path d="M130.7,1093.5 L148,1095.2 L167,1095.2 L292.8,1096.1 L345.3,1096.1 L376.7,1094.6 L460.2,1092.8 L474,1071 L479,1025.3 L484.1,974.5 L485.7,946.8 L490.5,911.4 L495.4,874.5 L501.4,826.6 L516.3,789.8 L529.8,798.6 L554,857.4 L572.5,905 L588.6,938.8 L604.6,961.3 L620.8,978 L645.3,998 L677.9,1015.9 L710.5,1028.9 L743.2,1037.9 L775.8,1043.6 L788.8,1042 L803.5,1025.7 L816.6,1043.6 L816.6,1048.5 L803.5,1033.8 L787.2,1050.5 L775.8,1050.2 L743.2,1044.4 L710.5,1035.5 L677.9,1024 L645.3,1007.7 L620.7,988.6 L604.6,975.7 L588.6,953.2 L572.5,924.3 L561.3,901.8 L550,876.1 L540.1,860 L537.3,854.6 L533.6,848.5 L530.3,843.9 L516.8,840.1 L514,845.3 L511.7,850.9 L508.9,860 L502.6,872.9 L497,898.6 L490.5,930.7 L485.6,981.8 L480.5,1018 L476.1,1061.6 L474,1082.6 L460.2,1093.5 L376.7,1095.7 L345.3,1097.3 L292.8,1097.3 L167,1096.7 L130.7,1097.3 Z" fill="#F8CBAD" fill-opacity="0.75" stroke="none"/>
<path d="M130.7,1097.3 L167,1096.7 L292.8,1097.3 L345.3,1097.3 L376.7,1095.7 L460.2,1093.5 L474,1082.6 L476.1,1061.6 L480.5,1018 L485.6,981.8 L490.5,930.7 L497,898.6 L502.6,872.9 L508.9,860 L511.7,850.9 L514,845.3 L516.8,840.1 L530.3,843.9 L533.6,848.5 L537.3,854.6 L540.1,860 L550,876.1 L561.3,901.8 L572.5,924.3 L588.6,953.2 L604.6,975.7 L620.7,988.6 L645.3,1007.7 L677.9,1024 L710.5,1035.5 L743.2,1044.4 L775.8,1050.2 L787.2,1050.5 L803.5,1033.8 L816.6,1048.5" fill="none" stroke="#000" stroke-width="1.7" stroke-dasharray="5.5 2.9"/>
<path d="M130.7,1093.5 L148,1095.2 L167,1095.2 L292.8,1096.1 L345.3,1096.1 L376.7,1094.6 L460.2,1092.8 L474,1071 L479,1025.3 L484.1,974.5 L485.7,946.8 L490.5,911.4 L495.4,874.5 L501.4,826.6 L516.3,789.8 L529.8,798.6 L554,857.4 L572.5,905 L588.6,938.8 L604.6,961.3 L620.8,978 L645.3,998 L677.9,1015.9 L710.5,1028.9 L743.2,1037.9 L775.8,1043.6 L788.8,1042 L803.5,1025.7 L816.6,1043.6" fill="none" stroke="#1a0d05" stroke-width="1.7" stroke-dasharray="5.5 2.9"/>
<path d="M130.7,706H816.9V1115.3" fill="none" stroke="#000" stroke-width="2.3"/>
<path d="M130.7,705V1116.3" fill="none" stroke="#000" stroke-width="2"/>
<path d="M129.7,1115.3H817.9" fill="none" stroke="#000" stroke-width="2.3"/>
<rect x="575.7" y="717.6" width="227.4" height="47.7" fill="#fff" stroke="#000" stroke-width="2"/>
<rect x="590.7" y="731.2" width="36" height="20.6" fill="#F8CBAD" stroke="#000" stroke-width="1.75" stroke-dasharray="5.5 4.4"/>
<text class="lg" x="647.5" y="747.4" textLength="133" lengthAdjust="spacingAndGlyphs">Optimal Q Range</text>
<g class="s" style="font-size:24px" text-anchor="end"><text x="97.2" y="1123.9">0</text><text x="97.2" y="1055.68">500</text><text x="97.2" y="987.47">1,000</text><text x="97.2" y="919.25">1,500</text><text x="97.2" y="851.03">2,000</text><text x="97.2" y="782.82">2,500</text><text x="97.2" y="714.6">3,000</text></g>
<g class="s" text-anchor="middle" style="letter-spacing:0px"><text x="130.1" y="1158.4">Jul19</text><text x="301.6" y="1158.4">Jul19</text><text x="473.1" y="1158.4">Jul19</text><text x="644.6" y="1158.4">Jul19</text><text x="816.1" y="1158.4">Jul19</text></g>
<text class="s" x="441.05" y="1211.3" text-anchor="middle" style="letter-spacing:0.7px">Date</text>
<text class="s" transform="translate(21.8,910) rotate(-90)" text-anchor="middle" textLength="173.5" lengthAdjust="spacingAndGlyphs">Discharge(m<tspan font-size="15" dy="-8">3</tspan><tspan dy="8">/s)</tspan></text>
</g>
<g>
<path d="M984.1,1114.56H1668.9 M984.1,1100.93H1668.9 M984.1,1087.29H1668.9 M984.1,1073.65H1668.9 M984.1,1046.38H1668.9 M984.1,1032.74H1668.9 M984.1,1019.11H1668.9 M984.1,1005.47H1668.9 M984.1,978.2H1668.9 M984.1,964.56H1668.9 M984.1,950.92H1668.9 M984.1,937.29H1668.9 M984.1,910.01H1668.9 M984.1,896.38H1668.9 M984.1,882.74H1668.9 M984.1,869.1H1668.9 M984.1,841.83H1668.9 M984.1,828.19H1668.9 M984.1,814.56H1668.9 M984.1,800.92H1668.9 M984.1,773.65H1668.9 M984.1,760.01H1668.9 M984.1,746.37H1668.9 M984.1,732.74H1668.9 M1015.75,719.1V1128.2 M1050.1,719.1V1128.2 M1084.45,719.1V1128.2 M1118.8,719.1V1128.2 M1187.5,719.1V1128.2 M1221.85,719.1V1128.2 M1256.2,719.1V1128.2 M1290.55,719.1V1128.2 M1359.25,719.1V1128.2 M1393.6,719.1V1128.2 M1427.95,719.1V1128.2 M1462.3,719.1V1128.2 M1531,719.1V1128.2 M1565.35,719.1V1128.2 M1599.7,719.1V1128.2 M1634.05,719.1V1128.2" stroke="#eeeeee" stroke-width="1.2" fill="none"/>
<path d="M984.1,1128.2H1668.9 M984.1,1060.02H1668.9 M984.1,991.83H1668.9 M984.1,923.65H1668.9 M984.1,855.47H1668.9 M984.1,787.28H1668.9 M984.1,719.1H1668.9 M1153.15,719.1V1128.2 M1324.9,719.1V1128.2 M1496.65,719.1V1128.2 M1668.4,719.1V1128.2" stroke="#d9d9d9" stroke-width="1.4" fill="none"/>
<path d="M981.7,719.1V1128.2" stroke="#c8c8c8" stroke-width="1.5"/>
<path d="M984.5,1106.8 L1084.9,1107.8 L1154.1,1108.2 L1231.7,1107.4 L1294.7,1105.7 L1318,1104 L1324.9,1101.5 L1326.8,1087.1 L1329.9,1068.5 L1333,1049.8 L1336.1,1031.1 L1338.6,1015.6 L1341.1,1000 L1344.5,970 L1346.5,940.7 L1351,900.5 L1355.4,878.6 L1359.6,853 L1363.8,836.6 L1367.1,819.9 L1372.6,812.4 L1382,803.5 L1386.6,809.6 L1396.9,824.5 L1400.6,832 L1406.2,848.3 L1412.8,862.8 L1418.4,878.6 L1429.3,905.4 L1445.4,937.5 L1464.6,966.4 L1480.7,985.7 L1496.3,1000.9 L1512.4,1012.2 L1536.5,1025 L1544.6,1025.8 L1567.1,1027.5 L1579.9,1036.3 L1594.4,1041.1 L1610.5,1049.2 L1637.8,1055.6 L1653.9,1041.1 L1670,1047.6 L1668.4,1054.8 L1653.9,1054.8 L1639.5,1062 L1616.9,1058.8 L1600.8,1054 L1581.5,1050 L1568.7,1054.8 L1555.8,1050.8 L1538.1,1034.7 L1520.4,1025 L1496.3,1012.2 L1480.2,998 L1461.4,976.1 L1445.4,953.6 L1429.3,924.6 L1416.4,900.5 L1405.3,878.6 L1400.6,871.6 L1393.6,861.4 L1386.6,854.4 L1382,851.6 L1377.3,857.6 L1372.6,863.7 L1368.9,869.3 L1366.1,878.6 L1363.4,889.3 L1357,916.6 L1350.5,948.8 L1347.5,970 L1345.4,1000 L1342.9,1018.7 L1340.4,1037.3 L1337.3,1056 L1332.4,1074.7 L1327.4,1093.3 L1324.9,1104.5 L1318,1106 L1294.7,1107.2 L1231.7,1108.9 L1154.1,1109.7 L1084.9,1109.3 L984.5,1108.3 Z" fill="#F8CBAD" fill-opacity="0.75" stroke="none"/>
<path d="M984.5,1108.3 L1084.9,1109.3 L1154.1,1109.7 L1231.7,1108.9 L1294.7,1107.2 L1318,1106 L1324.9,1104.5 L1327.4,1093.3 L1332.4,1074.7 L1337.3,1056 L1340.4,1037.3 L1342.9,1018.7 L1345.4,1000 L1347.5,970 L1350.5,948.8 L1357,916.6 L1363.4,889.3 L1366.1,878.6 L1368.9,869.3 L1372.6,863.7 L1377.3,857.6 L1382,851.6 L1386.6,854.4 L1393.6,861.4 L1400.6,871.6 L1405.3,878.6 L1416.4,900.5 L1429.3,924.6 L1445.4,953.6 L1461.4,976.1 L1480.2,998 L1496.3,1012.2 L1520.4,1025 L1538.1,1034.7 L1555.8,1050.8 L1568.7,1054.8 L1581.5,1050 L1600.8,1054 L1616.9,1058.8 L1639.5,1062 L1653.9,1054.8 L1668.4,1054.8" fill="none" stroke="#000" stroke-width="1.7" stroke-dasharray="5.5 2.9"/>
<path d="M984.5,1106.8 L1084.9,1107.8 L1154.1,1108.2 L1231.7,1107.4 L1294.7,1105.7 L1318,1104 L1324.9,1101.5 L1326.8,1087.1 L1329.9,1068.5 L1333,1049.8 L1336.1,1031.1 L1338.6,1015.6 L1341.1,1000 L1344.5,970 L1346.5,940.7 L1351,900.5 L1355.4,878.6 L1359.6,853 L1363.8,836.6 L1367.1,819.9 L1372.6,812.4 L1382,803.5 L1386.6,809.6 L1396.9,824.5 L1400.6,832 L1406.2,848.3 L1412.8,862.8 L1418.4,878.6 L1429.3,905.4 L1445.4,937.5 L1464.6,966.4 L1480.7,985.7 L1496.3,1000.9 L1512.4,1012.2 L1536.5,1025 L1544.6,1025.8 L1567.1,1027.5 L1579.9,1036.3 L1594.4,1041.1 L1610.5,1049.2 L1637.8,1055.6 L1653.9,1041.1 L1670,1047.6" fill="none" stroke="#1a0d05" stroke-width="1.7" stroke-dasharray="5.5 2.9"/>
<path d="M984.1,714.9H1680.1V1128.2" fill="none" stroke="#000" stroke-width="2.3"/>
<path d="M984.1,713.9V1129.2" fill="none" stroke="#000" stroke-width="2"/>
<path d="M983.1,1128.2H1681.1" fill="none" stroke="#000" stroke-width="2.3"/>
<rect x="1426.9" y="730.4" width="227.8" height="48.1" fill="#fff" stroke="#000" stroke-width="2"/>
<rect x="1441.9" y="744" width="36" height="20.6" fill="#F8CBAD" stroke="#000" stroke-width="1.75" stroke-dasharray="5.5 4.4"/>
<text class="lg" x="1498.7" y="760.2" textLength="133" lengthAdjust="spacingAndGlyphs">Optimal Q Range</text>
<g class="s" style="font-size:24px" text-anchor="end"><text x="948.4" y="1136.8">0</text><text x="948.4" y="1068.62">500</text><text x="948.4" y="1000.43">1,000</text><text x="948.4" y="932.25">1,500</text><text x="948.4" y="864.07">2,000</text><text x="948.4" y="795.88">2,500</text><text x="948.4" y="727.7">3,000</text></g>
<g class="s" text-anchor="middle" style="letter-spacing:0px"><text x="981.4" y="1171">Jul26</text><text x="1153.15" y="1171">Jul27</text><text x="1324.9" y="1171">Jul27</text><text x="1496.65" y="1171">Jul28</text><text x="1668.4" y="1171">Jul28</text></g>
<text class="s" x="1292.25" y="1224.2" text-anchor="middle" style="letter-spacing:0.7px">Date</text>
<text class="s" transform="translate(873.9,924.9) rotate(-90)" text-anchor="middle" textLength="177.5" lengthAdjust="spacingAndGlyphs">Discharge(m<tspan font-size="15" dy="-8">3</tspan><tspan dy="8">/s)</tspan></text>
</g>
<g>
<path d="M129,1746.39H805.1 M129,1737.27H805.1 M129,1728.16H805.1 M129,1719.05H805.1 M129,1700.82H805.1 M129,1691.71H805.1 M129,1682.59H805.1 M129,1673.48H805.1 M129,1655.25H805.1 M129,1646.14H805.1 M129,1637.03H805.1 M129,1627.91H805.1 M129,1609.69H805.1 M129,1600.57H805.1 M129,1591.46H805.1 M129,1582.35H805.1 M129,1564.12H805.1 M129,1555.01H805.1 M129,1545.89H805.1 M129,1536.78H805.1 M129,1518.55H805.1 M129,1509.44H805.1 M129,1500.33H805.1 M129,1491.21H805.1 M129,1472.99H805.1 M129,1463.87H805.1 M129,1454.76H805.1 M129,1445.65H805.1 M129,1427.42H805.1 M129,1418.31H805.1 M129,1409.19H805.1 M129,1400.08H805.1 M129,1381.85H805.1 M129,1372.74H805.1 M129,1363.63H805.1 M129,1354.51H805.1 M156.26,1345.4V1755.5 M183.42,1345.4V1755.5 M210.58,1345.4V1755.5 M237.74,1345.4V1755.5 M292.06,1345.4V1755.5 M319.22,1345.4V1755.5 M346.38,1345.4V1755.5 M373.54,1345.4V1755.5 M427.86,1345.4V1755.5 M455.02,1345.4V1755.5 M482.18,1345.4V1755.5 M509.34,1345.4V1755.5 M563.66,1345.4V1755.5 M590.82,1345.4V1755.5 M617.98,1345.4V1755.5 M645.14,1345.4V1755.5 M699.46,1345.4V1755.5 M726.62,1345.4V1755.5 M753.78,1345.4V1755.5 M780.94,1345.4V1755.5" stroke="#eeeeee" stroke-width="1.2" fill="none"/>
<path d="M129,1755.5H805.1 M129,1709.93H805.1 M129,1664.37H805.1 M129,1618.8H805.1 M129,1573.23H805.1 M129,1527.67H805.1 M129,1482.1H805.1 M129,1436.53H805.1 M129,1390.97H805.1 M129,1345.4H805.1 M264.9,1345.4V1755.5 M400.7,1345.4V1755.5 M536.5,1345.4V1755.5 M672.3,1345.4V1755.5" stroke="#d9d9d9" stroke-width="1.4" fill="none"/>
<path d="M130.2,1722.4 C132.25,1722.12 137.53,1720.85 142.5,1720.7 C147.47,1720.55 152.72,1721.22 160,1721.5 C167.28,1721.78 178.92,1722.83 186.2,1722.4 C193.48,1721.97 197.87,1720.65 203.7,1718.9 C209.53,1717.15 215.67,1714.23 221.2,1711.9 C226.73,1709.57 232.53,1705.77 236.9,1704.9 C241.27,1704.03 242.73,1705.53 247.4,1706.7 C252.07,1707.87 259.08,1710.3 264.9,1711.9 C270.72,1713.5 276.48,1715.42 282.3,1716.3 C288.12,1717.18 293.97,1717.2 299.8,1717.2 C305.63,1717.2 310.6,1716.6 317.3,1716.3 C324,1716 334.75,1716.42 340,1715.4 C345.25,1714.38 345.88,1713.07 348.8,1710.2 C351.72,1707.33 355.3,1702.73 357.5,1698.2 C359.7,1693.67 360.52,1688.02 362,1683 C363.48,1677.98 364.87,1675.93 366.4,1668.1 C367.93,1660.27 369.58,1647.52 371.2,1636 C372.82,1624.48 374.08,1607.17 376.1,1599 C378.12,1590.83 380.9,1587.53 383.3,1587 C385.7,1586.47 388.22,1590.32 390.5,1595.8 C392.78,1601.28 394.32,1613.47 397,1619.9 C399.68,1626.33 403.67,1633.32 406.6,1634.4 C409.53,1635.48 411.92,1630.42 414.6,1626.4 C417.28,1622.38 420.55,1618.07 422.7,1610.3 C424.85,1602.53 425.9,1591.58 427.5,1579.8 C429.1,1568.02 430.43,1554.33 432.3,1539.6 C434.17,1524.87 436.57,1506.12 438.7,1491.4 C440.83,1476.68 442.95,1461.73 445.1,1451.3 C447.25,1440.87 449.45,1434.03 451.6,1428.8 C453.75,1423.57 454.53,1421.52 458,1419.9 C461.47,1418.28 468.38,1420.83 472.4,1419.1 C476.42,1417.37 479.15,1411.9 482.1,1409.5 C485.05,1407.1 487.15,1404.17 490.1,1404.7 C493.05,1405.23 496.85,1408.42 499.8,1412.7 C502.75,1416.98 504.87,1421.57 507.8,1430.4 C510.73,1439.23 513.92,1452.05 517.4,1465.7 C520.88,1479.35 524.95,1497.3 528.7,1512.3 C532.45,1527.3 536.35,1542.73 539.9,1555.7 C543.45,1568.67 546.75,1582.78 550,1590.1 C553.25,1597.42 555.47,1596.7 559.4,1599.6 C563.33,1602.5 568.08,1604.62 573.6,1607.5 C579.12,1610.38 588.05,1613.77 592.5,1616.9 C596.95,1620.03 596.9,1621.32 600.3,1626.3 C603.7,1631.28 608.7,1640.77 612.9,1646.8 C617.1,1652.83 621.3,1658.3 625.5,1662.5 C629.7,1666.7 633.63,1669.37 638.1,1672 C642.57,1674.63 646.53,1675.95 652.3,1678.3 C658.07,1680.65 666.15,1683.75 672.7,1686.1 C679.25,1688.45 685.83,1690.57 691.6,1692.4 C697.37,1694.23 702.05,1695.65 707.3,1697.1 C712.55,1698.55 717.85,1700.1 723.1,1701.1 C728.35,1702.1 733.57,1702.85 738.8,1703.1 C744.03,1703.35 750.05,1703.6 754.5,1702.6 C758.95,1701.6 761.82,1698.8 765.5,1697.1 C769.18,1695.4 773.18,1693.32 776.6,1692.4 C780.02,1691.48 782.87,1691.2 786,1691.6 C789.13,1692 792.52,1694.27 795.4,1694.8 C798.28,1695.33 800.08,1695.8 803.3,1694.8 C806.52,1693.8 812.8,1689.8 814.7,1688.8 L814.7,1697.8 C812.8,1698.48 806.52,1701.48 803.3,1701.9 C800.08,1702.32 798.82,1700.83 795.4,1700.3 C791.98,1699.77 786.98,1698.7 782.8,1698.7 C778.62,1698.7 774.48,1699.12 770.3,1700.3 C766.12,1701.48 761.63,1704.5 757.7,1705.8 C753.77,1707.1 752.47,1707.83 746.7,1708.1 C740.93,1708.37 729.67,1708.18 723.1,1707.4 C716.53,1706.62 712.55,1704.98 707.3,1703.4 C702.05,1701.82 697.37,1699.47 691.6,1697.9 C685.83,1696.33 679.25,1695.7 672.7,1694 C666.15,1692.3 658.07,1689.8 652.3,1687.7 C646.53,1685.6 642.57,1683.77 638.1,1681.4 C633.63,1679.03 629.7,1677.17 625.5,1673.5 C621.3,1669.83 616.83,1664.12 612.9,1659.4 C608.97,1654.68 605.3,1648.88 601.9,1645.2 C598.5,1641.52 597.22,1639.78 592.5,1637.3 C587.78,1634.82 579.12,1632.65 573.6,1630.3 C568.08,1627.95 563.33,1625.7 559.4,1623.2 C555.47,1620.7 552.72,1620.67 550,1615.3 C547.28,1609.93 546.12,1600.4 543.1,1591 C540.08,1581.6 535.65,1569.33 531.9,1558.9 C528.15,1548.47 524.35,1538.32 520.6,1528.4 C516.85,1518.48 512.6,1506.9 509.4,1499.4 C506.2,1491.9 504.35,1487 501.4,1483.4 C498.45,1479.8 494.92,1477.8 491.7,1477.8 C488.48,1477.8 485.03,1481.8 482.1,1483.4 C479.17,1485 477.85,1486.6 474.1,1487.4 C470.35,1488.2 463.62,1486.2 459.6,1488.2 C455.58,1490.2 452.95,1493.52 450,1499.4 C447.05,1505.28 444.32,1514.12 441.9,1523.5 C439.48,1532.88 437.63,1543.65 435.5,1555.7 C433.37,1567.75 430.97,1583.75 429.1,1595.8 C427.23,1607.85 426.18,1620.23 424.3,1628 C422.42,1635.77 420.48,1638.65 417.8,1642.4 C415.12,1646.15 411.13,1650.23 408.2,1650.5 C405.27,1650.77 403.15,1648.57 400.2,1644 C397.25,1639.43 393.32,1628.18 390.5,1623.1 C387.68,1618.02 385.17,1614.3 383.3,1613.5 C381.43,1612.7 380.77,1614.55 379.3,1618.3 C377.83,1622.05 376.12,1627.7 374.5,1636 C372.88,1644.3 371.35,1659.6 369.6,1668.1 C367.85,1676.6 365.72,1681.4 364,1687 C362.28,1692.6 361.55,1697.22 359.3,1701.7 C357.05,1706.18 353.42,1710.85 350.5,1713.9 C347.58,1716.95 348.78,1718.83 341.8,1720 C334.82,1721.17 317.05,1720.75 308.6,1720.9 C300.15,1721.05 298.38,1721.63 291.1,1720.9 C283.82,1720.17 272.18,1717.82 264.9,1716.5 C257.62,1715.18 252.07,1713.87 247.4,1713 C242.73,1712.13 241.27,1710.57 236.9,1711.3 C232.53,1712.03 226.73,1715.37 221.2,1717.4 C215.67,1719.43 209.53,1722.03 203.7,1723.5 C197.87,1724.97 193.48,1725.9 186.2,1726.2 C178.92,1726.5 169.33,1725.17 160,1725.3 C150.67,1725.43 135.17,1726.72 130.2,1727 Z" fill="#F8CBAD" fill-opacity="0.75" stroke="none"/>
<path d="M130.2,1730 C135.17,1729.72 150.67,1728.43 160,1728.3 C169.33,1728.17 178.92,1729.5 186.2,1729.2 C193.48,1728.9 197.87,1727.97 203.7,1726.5 C209.53,1725.03 215.67,1722.43 221.2,1720.4 C226.73,1718.37 232.53,1715.03 236.9,1714.3 C241.27,1713.57 242.73,1715.13 247.4,1716 C252.07,1716.87 257.62,1718.18 264.9,1719.5 C272.18,1720.82 283.82,1723.17 291.1,1723.9 C298.38,1724.63 300.15,1724.05 308.6,1723.9 C317.05,1723.75 334.82,1724.17 341.8,1723 C348.78,1721.83 347.58,1719.95 350.5,1716.9 C353.42,1713.85 357.05,1709.18 359.3,1704.7 C361.55,1700.22 362.28,1695.6 364,1690 C365.72,1684.4 367.85,1679.6 369.6,1671.1 C371.35,1662.6 372.88,1647.3 374.5,1639 C376.12,1630.7 377.83,1625.05 379.3,1621.3 C380.77,1617.55 381.43,1615.7 383.3,1616.5 C385.17,1617.3 387.68,1621.02 390.5,1626.1 C393.32,1631.18 397.25,1642.43 400.2,1647 C403.15,1651.57 405.27,1653.77 408.2,1653.5 C411.13,1653.23 415.12,1649.15 417.8,1645.4 C420.48,1641.65 422.42,1638.77 424.3,1631 C426.18,1623.23 427.23,1610.85 429.1,1598.8 C430.97,1586.75 433.37,1570.75 435.5,1558.7 C437.63,1546.65 439.48,1535.88 441.9,1526.5 C444.32,1517.12 447.05,1508.28 450,1502.4 C452.95,1496.52 455.58,1493.2 459.6,1491.2 C463.62,1489.2 470.35,1491.2 474.1,1490.4 C477.85,1489.6 479.17,1488 482.1,1486.4 C485.03,1484.8 488.48,1480.8 491.7,1480.8 C494.92,1480.8 498.45,1482.8 501.4,1486.4 C504.35,1490 506.2,1494.9 509.4,1502.4 C512.6,1509.9 516.85,1521.48 520.6,1531.4 C524.35,1541.32 528.15,1551.47 531.9,1561.9 C535.65,1572.33 540.08,1584.6 543.1,1594 C546.12,1603.4 547.28,1612.93 550,1618.3 C552.72,1623.67 555.47,1623.7 559.4,1626.2 C563.33,1628.7 568.08,1630.95 573.6,1633.3 C579.12,1635.65 587.78,1637.82 592.5,1640.3 C597.22,1642.78 598.5,1644.52 601.9,1648.2 C605.3,1651.88 608.97,1657.68 612.9,1662.4 C616.83,1667.12 621.3,1672.83 625.5,1676.5 C629.7,1680.17 633.63,1682.03 638.1,1684.4 C642.57,1686.77 646.53,1688.6 652.3,1690.7 C658.07,1692.8 666.15,1695.3 672.7,1697 C679.25,1698.7 685.83,1699.33 691.6,1700.9 C697.37,1702.47 702.05,1704.82 707.3,1706.4 C712.55,1707.98 716.53,1709.62 723.1,1710.4 C729.67,1711.18 740.93,1711.37 746.7,1711.1 C752.47,1710.83 753.77,1710.1 757.7,1708.8 C761.63,1707.5 766.12,1704.48 770.3,1703.3 C774.48,1702.12 778.62,1701.7 782.8,1701.7 C786.98,1701.7 791.98,1702.77 795.4,1703.3 C798.82,1703.83 801.98,1704.63 803.3,1704.9" fill="none" stroke="#000" stroke-width="1.9" stroke-dasharray="5 3"/>
<path d="M130.2,1727.4 C132.25,1727.12 137.53,1725.85 142.5,1725.7 C147.47,1725.55 152.72,1726.22 160,1726.5 C167.28,1726.78 178.92,1727.83 186.2,1727.4 C193.48,1726.97 197.87,1725.65 203.7,1723.9 C209.53,1722.15 215.67,1719.23 221.2,1716.9 C226.73,1714.57 232.53,1710.77 236.9,1709.9 C241.27,1709.03 242.73,1710.53 247.4,1711.7 C252.07,1712.87 259.08,1715.3 264.9,1716.9 C270.72,1718.5 276.48,1720.42 282.3,1721.3 C288.12,1722.18 293.97,1722.2 299.8,1722.2 C305.63,1722.2 310.6,1721.6 317.3,1721.3 C324,1721 334.75,1721.42 340,1720.4 C345.25,1719.38 345.88,1718.4 348.8,1715.2 C351.72,1712 355.3,1706.07 357.5,1701.2 C359.7,1696.33 360.52,1691.02 362,1686 C363.48,1680.98 364.87,1678.93 366.4,1671.1 C367.93,1663.27 369.58,1650.52 371.2,1639 C372.82,1627.48 374.08,1610.17 376.1,1602 C378.12,1593.83 380.9,1590.53 383.3,1590 C385.7,1589.47 388.22,1593.32 390.5,1598.8 C392.78,1604.28 394.32,1616.47 397,1622.9 C399.68,1629.33 403.67,1636.32 406.6,1637.4 C409.53,1638.48 411.92,1633.42 414.6,1629.4 C417.28,1625.38 420.55,1621.07 422.7,1613.3 C424.85,1605.53 425.9,1594.58 427.5,1582.8 C429.1,1571.02 430.43,1557.33 432.3,1542.6 C434.17,1527.87 436.57,1509.12 438.7,1494.4 C440.83,1479.68 442.95,1464.73 445.1,1454.3 C447.25,1443.87 449.45,1437.03 451.6,1431.8 C453.75,1426.57 454.53,1424.52 458,1422.9 C461.47,1421.28 468.38,1423.83 472.4,1422.1 C476.42,1420.37 479.15,1414.9 482.1,1412.5 C485.05,1410.1 487.15,1407.17 490.1,1407.7 C493.05,1408.23 496.85,1411.42 499.8,1415.7 C502.75,1419.98 504.87,1424.57 507.8,1433.4 C510.73,1442.23 513.92,1455.05 517.4,1468.7 C520.88,1482.35 524.95,1500.3 528.7,1515.3 C532.45,1530.3 536.35,1545.73 539.9,1558.7 C543.45,1571.67 546.75,1585.78 550,1593.1 C553.25,1600.42 555.47,1599.7 559.4,1602.6 C563.33,1605.5 568.08,1607.62 573.6,1610.5 C579.12,1613.38 588.05,1616.77 592.5,1619.9 C596.95,1623.03 596.9,1624.32 600.3,1629.3 C603.7,1634.28 608.7,1643.77 612.9,1649.8 C617.1,1655.83 621.3,1661.3 625.5,1665.5 C629.7,1669.7 633.63,1672.37 638.1,1675 C642.57,1677.63 646.53,1678.95 652.3,1681.3 C658.07,1683.65 666.15,1686.75 672.7,1689.1 C679.25,1691.45 685.83,1693.57 691.6,1695.4 C697.37,1697.23 702.05,1698.65 707.3,1700.1 C712.55,1701.55 717.85,1703.1 723.1,1704.1 C728.35,1705.1 733.57,1705.85 738.8,1706.1 C744.03,1706.35 750.05,1706.6 754.5,1705.6 C758.95,1704.6 761.82,1701.8 765.5,1700.1 C769.18,1698.4 773.18,1696.32 776.6,1695.4 C780.02,1694.48 782.87,1694.2 786,1694.6 C789.13,1695 792.52,1697.27 795.4,1697.8 C798.28,1698.33 801.98,1697.8 803.3,1697.8" fill="none" stroke="#1a0d05" stroke-width="1.9" stroke-dasharray="5 3"/>
<path d="M129,1345.4H805.1V1758.7" fill="none" stroke="#000" stroke-width="2.3"/>
<path d="M129,1344.4V1759.7" fill="none" stroke="#000" stroke-width="2"/>
<path d="M128,1758.7H806.1" fill="none" stroke="#000" stroke-width="2.3"/>
<rect x="574" y="1357.1" width="227.3" height="48.1" fill="#fff" stroke="#000" stroke-width="2"/>
<rect x="589" y="1370.7" width="36" height="20.6" fill="#F8CBAD" stroke="#000" stroke-width="1.75" stroke-dasharray="5.5 4.4"/>
<text class="lg" x="645.8" y="1386.9" textLength="133" lengthAdjust="spacingAndGlyphs">Optimal Q Range</text>
<g class="s" style="font-size:24px" text-anchor="end"><text x="95.1" y="1764.1">0</text><text x="95.1" y="1718.53">1,000</text><text x="95.1" y="1672.97">2,000</text><text x="95.1" y="1627.4">3,000</text><text x="95.1" y="1581.83">4,000</text><text x="95.1" y="1536.27">5,000</text><text x="95.1" y="1490.7">6,000</text><text x="95.1" y="1445.13">7,000</text><text x="95.1" y="1399.57">8,000</text><text x="95.1" y="1354">9,000</text></g>
<g class="s" text-anchor="middle" style="letter-spacing:0.5px"><text x="129.1" y="1798">Aug06</text><text x="264.9" y="1798">Aug07</text><text x="400.7" y="1798">Aug08</text><text x="536.5" y="1798">Aug09</text><text x="672.3" y="1798">Aug10</text><text x="808.1" y="1798">Aug11</text></g>
<text class="s" x="468.65" y="1839" text-anchor="middle" style="letter-spacing:0.7px">Date</text>
<text class="s" transform="translate(19.6,1551) rotate(-90)" text-anchor="middle" textLength="176.2" lengthAdjust="spacingAndGlyphs">Discharge(m<tspan font-size="15" dy="-8">3</tspan><tspan dy="8">/s)</tspan></text>
</g>
<g>
<path d="M1018.4,1760.4H1682 M1018.4,1752.2H1682 M1018.4,1744.01H1682 M1018.4,1735.81H1682 M1018.4,1719.41H1682 M1018.4,1711.21H1682 M1018.4,1703.02H1682 M1018.4,1694.82H1682 M1018.4,1678.42H1682 M1018.4,1670.22H1682 M1018.4,1662.03H1682 M1018.4,1653.83H1682 M1018.4,1637.43H1682 M1018.4,1629.23H1682 M1018.4,1621.04H1682 M1018.4,1612.84H1682 M1018.4,1596.44H1682 M1018.4,1588.24H1682 M1018.4,1580.05H1682 M1018.4,1571.85H1682 M1018.4,1555.45H1682 M1018.4,1547.25H1682 M1018.4,1539.06H1682 M1018.4,1530.86H1682 M1018.4,1514.46H1682 M1018.4,1506.26H1682 M1018.4,1498.07H1682 M1018.4,1489.87H1682 M1018.4,1473.47H1682 M1018.4,1465.27H1682 M1018.4,1457.08H1682 M1018.4,1448.88H1682 M1018.4,1432.48H1682 M1018.4,1424.28H1682 M1018.4,1416.09H1682 M1018.4,1407.89H1682 M1018.4,1391.49H1682 M1018.4,1383.29H1682 M1018.4,1375.1H1682 M1018.4,1366.9H1682 M1042.9,1358.7V1768.6 M1069.5,1358.7V1768.6 M1096.1,1358.7V1768.6 M1122.7,1358.7V1768.6 M1175.9,1358.7V1768.6 M1202.5,1358.7V1768.6 M1229.1,1358.7V1768.6 M1255.7,1358.7V1768.6 M1308.9,1358.7V1768.6 M1335.5,1358.7V1768.6 M1362.1,1358.7V1768.6 M1388.7,1358.7V1768.6 M1441.9,1358.7V1768.6 M1468.5,1358.7V1768.6 M1495.1,1358.7V1768.6 M1521.7,1358.7V1768.6 M1574.9,1358.7V1768.6 M1601.5,1358.7V1768.6 M1628.1,1358.7V1768.6 M1654.7,1358.7V1768.6" stroke="#eeeeee" stroke-width="1.2" fill="none"/>
<path d="M1018.4,1768.6H1682 M1018.4,1727.61H1682 M1018.4,1686.62H1682 M1018.4,1645.63H1682 M1018.4,1604.64H1682 M1018.4,1563.65H1682 M1018.4,1522.66H1682 M1018.4,1481.67H1682 M1018.4,1440.68H1682 M1018.4,1399.69H1682 M1018.4,1358.7H1682 M1149.3,1358.7V1768.6 M1282.3,1358.7V1768.6 M1415.3,1358.7V1768.6 M1548.3,1358.7V1768.6 M1681.3,1358.7V1768.6" stroke="#d9d9d9" stroke-width="1.4" fill="none"/>
<path d="M1017.9,1744.8 C1019.5,1743.92 1023.57,1740.38 1027.5,1739.5 C1031.43,1738.62 1037.13,1739.2 1041.5,1739.5 C1045.87,1739.8 1049.63,1741 1053.7,1741.3 C1057.77,1741.6 1062.83,1741.88 1065.9,1741.3 C1068.97,1740.72 1069.47,1737.95 1072.1,1737.8 C1074.73,1737.65 1078.07,1740.55 1081.7,1740.4 C1085.33,1740.25 1090.7,1737.77 1093.9,1736.9 C1097.1,1736.03 1097.98,1736.95 1100.9,1735.2 C1103.82,1733.45 1107.62,1728.58 1111.4,1726.4 C1115.18,1724.22 1119.23,1722.53 1123.6,1722.1 C1127.97,1721.67 1133.22,1722.78 1137.6,1723.8 C1141.98,1724.82 1144.95,1726.73 1149.9,1728.2 C1154.85,1729.67 1161.48,1731.43 1167.3,1732.6 C1173.12,1733.77 1178.97,1735.27 1184.8,1735.2 C1190.63,1735.13 1196.47,1732.93 1202.3,1732.2 C1208.13,1731.47 1215.72,1731.32 1219.8,1730.8 C1223.88,1730.28 1224.18,1731 1226.8,1729.1 C1229.42,1727.2 1232.58,1723.92 1235.5,1719.4 C1238.42,1714.88 1241.97,1708.07 1244.3,1702 C1246.63,1695.93 1247.97,1690 1249.5,1683 C1251.03,1676 1252.48,1666.43 1253.5,1660 C1254.52,1653.57 1254.48,1652.7 1255.6,1644.4 C1256.72,1636.1 1258.4,1619.02 1260.2,1610.2 C1262,1601.38 1264.2,1594.1 1266.4,1591.5 C1268.6,1588.9 1271.07,1591.48 1273.4,1594.6 C1275.73,1597.72 1278.18,1605.78 1280.4,1610.2 C1282.62,1614.62 1284.48,1618.77 1286.7,1621.1 C1288.92,1623.43 1291.37,1624.72 1293.7,1624.2 C1296.03,1623.68 1298.5,1621.37 1300.7,1618 C1302.9,1614.63 1305.1,1612.57 1306.9,1604 C1308.7,1595.43 1310.2,1579.32 1311.5,1566.6 C1312.8,1553.88 1313.65,1539.37 1314.7,1527.7 C1315.75,1516.03 1316.77,1507.48 1317.8,1496.6 C1318.83,1485.72 1319.35,1471.72 1320.9,1462.4 C1322.45,1453.08 1325.03,1446.92 1327.1,1440.7 C1329.17,1434.48 1330.97,1428.6 1333.3,1425.1 C1335.63,1421.6 1338.25,1420.48 1341.1,1419.7 C1343.95,1418.92 1347.55,1421.83 1350.4,1420.4 C1353.25,1418.97 1355.6,1415.12 1358.2,1411.1 C1360.8,1407.08 1363.42,1398.12 1366,1396.3 C1368.58,1394.48 1370.6,1396.43 1373.7,1400.2 C1376.8,1403.97 1381.73,1412.42 1384.6,1418.9 C1387.47,1425.38 1388.57,1430.03 1390.9,1439.1 C1393.23,1448.17 1395.75,1462.42 1398.6,1473.3 C1401.45,1484.18 1404.63,1491.95 1408,1504.4 C1411.37,1516.85 1415.8,1535.73 1418.8,1548 C1421.8,1560.27 1424.13,1570.73 1426,1578 C1427.87,1585.27 1428.28,1586.98 1430,1591.6 C1431.72,1596.22 1433.68,1601.52 1436.3,1605.7 C1438.92,1609.88 1441.5,1612.5 1445.7,1616.7 C1449.9,1620.9 1456.77,1626.97 1461.5,1630.9 C1466.23,1634.83 1470.17,1636.63 1474.1,1640.3 C1478.03,1643.97 1481.43,1647.92 1485.1,1652.9 C1488.77,1657.88 1492.7,1664.95 1496.1,1670.2 C1499.5,1675.45 1501.83,1680.47 1505.5,1684.4 C1509.17,1688.33 1512.33,1690.65 1518.1,1693.8 C1523.87,1696.95 1532.5,1700.42 1540.1,1703.3 C1547.7,1706.18 1555.83,1708.48 1563.7,1711.1 C1571.57,1713.72 1579.43,1717.15 1587.3,1719 C1595.17,1720.85 1604.33,1721.67 1610.9,1722.2 C1617.47,1722.73 1621.45,1723.25 1626.7,1722.2 C1631.95,1721.15 1637.68,1717.62 1642.4,1715.9 C1647.12,1714.18 1650.55,1712.43 1655,1711.9 C1659.45,1711.37 1664.38,1712.17 1669.1,1712.7 C1673.82,1713.23 1680.93,1714.7 1683.3,1715.1 L1683.3,1719.8 C1681.2,1719.53 1675.15,1718.6 1670.7,1718.2 C1666.25,1717.8 1661.32,1717 1656.6,1717.4 C1651.88,1717.8 1646.6,1719.15 1642.4,1720.6 C1638.2,1722.05 1635.33,1725.05 1631.4,1726.1 C1627.47,1727.15 1624.83,1727.03 1618.8,1726.9 C1612.77,1726.77 1603.07,1726.62 1595.2,1725.3 C1587.33,1723.98 1579.47,1721.1 1571.6,1719 C1563.73,1716.9 1555.87,1715.05 1548,1712.7 C1540.13,1710.35 1530.95,1707.52 1524.4,1704.9 C1517.85,1702.28 1513.42,1700.42 1508.7,1697 C1503.98,1693.58 1500.57,1689.65 1496.1,1684.4 C1491.63,1679.15 1486.37,1670.22 1481.9,1665.5 C1477.43,1660.78 1474.02,1659.77 1469.3,1656.1 C1464.58,1652.43 1458.58,1647.97 1453.6,1643.5 C1448.62,1639.03 1443.33,1634.55 1439.4,1629.3 C1435.47,1624.05 1432.65,1617.78 1430,1612 C1427.35,1606.22 1426.4,1604.75 1423.5,1594.6 C1420.6,1584.45 1415.97,1564.05 1412.6,1551.1 C1409.23,1538.15 1406.4,1527.27 1403.3,1516.9 C1400.2,1506.53 1397.12,1497.98 1394,1488.9 C1390.88,1479.82 1387.45,1470.18 1384.6,1462.4 C1381.75,1454.62 1379.23,1446.22 1376.9,1442.2 C1374.57,1438.18 1373.2,1437.78 1370.6,1438.3 C1368,1438.82 1364.4,1442.57 1361.3,1445.3 C1358.2,1448.03 1354.58,1452.88 1352,1454.7 C1349.42,1456.52 1348.13,1455.43 1345.8,1456.2 C1343.47,1456.97 1340.6,1455.93 1338,1459.3 C1335.4,1462.67 1332.53,1469.4 1330.2,1476.4 C1327.87,1483.4 1326.07,1492.75 1324,1501.3 C1321.93,1509.85 1319.62,1516.82 1317.8,1527.7 C1315.98,1538.58 1314.67,1553.37 1313.1,1566.6 C1311.53,1579.83 1309.95,1596.22 1308.4,1607.1 C1306.85,1617.98 1305.62,1625.95 1303.8,1631.9 C1301.98,1637.85 1299.32,1640.33 1297.5,1642.8 C1295.68,1645.27 1294.97,1647.47 1292.9,1646.7 C1290.83,1645.93 1287.7,1642.73 1285.1,1638.2 C1282.5,1633.67 1279.5,1624.95 1277.3,1619.5 C1275.1,1614.05 1273.72,1607.57 1271.9,1605.5 C1270.08,1603.43 1267.95,1605.8 1266.4,1607.1 C1264.85,1608.4 1264.15,1607.08 1262.6,1613.3 C1261.05,1619.52 1258.55,1635.17 1257.1,1644.4 C1255.65,1653.63 1255.17,1661.15 1253.9,1668.7 C1252.63,1676.25 1251.4,1682.42 1249.5,1689.7 C1247.6,1696.98 1245.12,1705.98 1242.5,1712.4 C1239.88,1718.82 1236.72,1724.4 1233.8,1728.2 C1230.88,1732 1228.8,1733.98 1225,1735.2 C1221.2,1736.42 1216.23,1735.22 1211,1735.5 C1205.77,1735.78 1199.42,1736.67 1193.6,1736.9 C1187.78,1737.13 1182.52,1737.48 1176.1,1736.9 C1169.68,1736.32 1161.52,1734.7 1155.1,1733.4 C1148.68,1732.1 1142.85,1730.12 1137.6,1729.1 C1132.35,1728.08 1127.97,1726.72 1123.6,1727.3 C1119.23,1727.88 1115.77,1730.42 1111.4,1732.6 C1107.03,1734.78 1102.07,1738.37 1097.4,1740.4 C1092.73,1742.43 1089.23,1743.92 1083.4,1744.8 C1077.57,1745.68 1068.8,1745.7 1062.4,1745.7 C1056,1745.7 1050.82,1744.8 1045,1744.8 C1039.18,1744.8 1032.02,1745.55 1027.5,1745.7 C1022.98,1745.85 1019.5,1745.7 1017.9,1745.7 Z" fill="#F8CBAD" fill-opacity="0.75" stroke="none"/>
<path d="M1017.9,1745.7 C1019.5,1745.7 1022.98,1745.85 1027.5,1745.7 C1032.02,1745.55 1039.18,1744.8 1045,1744.8 C1050.82,1744.8 1056,1745.7 1062.4,1745.7 C1068.8,1745.7 1077.57,1745.68 1083.4,1744.8 C1089.23,1743.92 1092.73,1742.43 1097.4,1740.4 C1102.07,1738.37 1107.03,1734.78 1111.4,1732.6 C1115.77,1730.42 1119.23,1727.88 1123.6,1727.3 C1127.97,1726.72 1132.35,1728.08 1137.6,1729.1 C1142.85,1730.12 1148.68,1732.1 1155.1,1733.4 C1161.52,1734.7 1169.68,1736.32 1176.1,1736.9 C1182.52,1737.48 1187.78,1737.13 1193.6,1736.9 C1199.42,1736.67 1205.77,1735.78 1211,1735.5 C1216.23,1735.22 1221.2,1736.42 1225,1735.2 C1228.8,1733.98 1230.88,1732 1233.8,1728.2 C1236.72,1724.4 1239.88,1718.82 1242.5,1712.4 C1245.12,1705.98 1247.6,1696.98 1249.5,1689.7 C1251.4,1682.42 1252.63,1676.25 1253.9,1668.7 C1255.17,1661.15 1255.65,1653.63 1257.1,1644.4 C1258.55,1635.17 1261.05,1619.52 1262.6,1613.3 C1264.15,1607.08 1264.85,1608.4 1266.4,1607.1 C1267.95,1605.8 1270.08,1603.43 1271.9,1605.5 C1273.72,1607.57 1275.1,1614.05 1277.3,1619.5 C1279.5,1624.95 1282.5,1633.67 1285.1,1638.2 C1287.7,1642.73 1290.83,1645.93 1292.9,1646.7 C1294.97,1647.47 1295.68,1645.27 1297.5,1642.8 C1299.32,1640.33 1301.98,1637.85 1303.8,1631.9 C1305.62,1625.95 1306.85,1617.98 1308.4,1607.1 C1309.95,1596.22 1311.53,1579.83 1313.1,1566.6 C1314.67,1553.37 1315.98,1538.58 1317.8,1527.7 C1319.62,1516.82 1321.93,1509.85 1324,1501.3 C1326.07,1492.75 1327.87,1483.4 1330.2,1476.4 C1332.53,1469.4 1335.4,1462.67 1338,1459.3 C1340.6,1455.93 1343.47,1456.97 1345.8,1456.2 C1348.13,1455.43 1349.42,1456.52 1352,1454.7 C1354.58,1452.88 1358.2,1448.03 1361.3,1445.3 C1364.4,1442.57 1368,1438.82 1370.6,1438.3 C1373.2,1437.78 1374.57,1438.18 1376.9,1442.2 C1379.23,1446.22 1381.75,1454.62 1384.6,1462.4 C1387.45,1470.18 1390.88,1479.82 1394,1488.9 C1397.12,1497.98 1400.2,1506.53 1403.3,1516.9 C1406.4,1527.27 1409.23,1538.15 1412.6,1551.1 C1415.97,1564.05 1420.6,1584.45 1423.5,1594.6 C1426.4,1604.75 1427.35,1606.22 1430,1612 C1432.65,1617.78 1435.47,1624.05 1439.4,1629.3 C1443.33,1634.55 1448.62,1639.03 1453.6,1643.5 C1458.58,1647.97 1464.58,1652.43 1469.3,1656.1 C1474.02,1659.77 1477.43,1660.78 1481.9,1665.5 C1486.37,1670.22 1491.63,1679.15 1496.1,1684.4 C1500.57,1689.65 1503.98,1693.58 1508.7,1697 C1513.42,1700.42 1517.85,1702.28 1524.4,1704.9 C1530.95,1707.52 1540.13,1710.35 1548,1712.7 C1555.87,1715.05 1563.73,1716.9 1571.6,1719 C1579.47,1721.1 1587.33,1723.98 1595.2,1725.3 C1603.07,1726.62 1612.77,1726.77 1618.8,1726.9 C1624.83,1727.03 1627.47,1727.15 1631.4,1726.1 C1635.33,1725.05 1638.2,1722.05 1642.4,1720.6 C1646.6,1719.15 1651.88,1717.8 1656.6,1717.4 C1661.32,1717 1666.25,1717.8 1670.7,1718.2 C1675.15,1718.6 1681.2,1719.53 1683.3,1719.8" fill="none" stroke="#000" stroke-width="1.9" stroke-dasharray="5 3"/>
<path d="M1017.9,1744.8 C1019.5,1743.92 1023.57,1740.38 1027.5,1739.5 C1031.43,1738.62 1037.13,1739.2 1041.5,1739.5 C1045.87,1739.8 1049.63,1741 1053.7,1741.3 C1057.77,1741.6 1062.83,1741.88 1065.9,1741.3 C1068.97,1740.72 1069.47,1737.95 1072.1,1737.8 C1074.73,1737.65 1078.07,1740.55 1081.7,1740.4 C1085.33,1740.25 1090.7,1737.77 1093.9,1736.9 C1097.1,1736.03 1097.98,1736.95 1100.9,1735.2 C1103.82,1733.45 1107.62,1728.58 1111.4,1726.4 C1115.18,1724.22 1119.23,1722.53 1123.6,1722.1 C1127.97,1721.67 1133.22,1722.78 1137.6,1723.8 C1141.98,1724.82 1144.95,1726.73 1149.9,1728.2 C1154.85,1729.67 1161.48,1731.43 1167.3,1732.6 C1173.12,1733.77 1178.97,1735.27 1184.8,1735.2 C1190.63,1735.13 1196.47,1732.93 1202.3,1732.2 C1208.13,1731.47 1215.72,1731.32 1219.8,1730.8 C1223.88,1730.28 1224.18,1731 1226.8,1729.1 C1229.42,1727.2 1232.58,1723.92 1235.5,1719.4 C1238.42,1714.88 1241.97,1708.07 1244.3,1702 C1246.63,1695.93 1247.97,1690 1249.5,1683 C1251.03,1676 1252.48,1666.43 1253.5,1660 C1254.52,1653.57 1254.48,1652.7 1255.6,1644.4 C1256.72,1636.1 1258.4,1619.02 1260.2,1610.2 C1262,1601.38 1264.2,1594.1 1266.4,1591.5 C1268.6,1588.9 1271.07,1591.48 1273.4,1594.6 C1275.73,1597.72 1278.18,1605.78 1280.4,1610.2 C1282.62,1614.62 1284.48,1618.77 1286.7,1621.1 C1288.92,1623.43 1291.37,1624.72 1293.7,1624.2 C1296.03,1623.68 1298.5,1621.37 1300.7,1618 C1302.9,1614.63 1305.1,1612.57 1306.9,1604 C1308.7,1595.43 1310.2,1579.32 1311.5,1566.6 C1312.8,1553.88 1313.65,1539.37 1314.7,1527.7 C1315.75,1516.03 1316.77,1507.48 1317.8,1496.6 C1318.83,1485.72 1319.35,1471.72 1320.9,1462.4 C1322.45,1453.08 1325.03,1446.92 1327.1,1440.7 C1329.17,1434.48 1330.97,1428.6 1333.3,1425.1 C1335.63,1421.6 1338.25,1420.48 1341.1,1419.7 C1343.95,1418.92 1347.55,1421.83 1350.4,1420.4 C1353.25,1418.97 1355.6,1415.12 1358.2,1411.1 C1360.8,1407.08 1363.42,1398.12 1366,1396.3 C1368.58,1394.48 1370.6,1396.43 1373.7,1400.2 C1376.8,1403.97 1381.73,1412.42 1384.6,1418.9 C1387.47,1425.38 1388.57,1430.03 1390.9,1439.1 C1393.23,1448.17 1395.75,1462.42 1398.6,1473.3 C1401.45,1484.18 1404.63,1491.95 1408,1504.4 C1411.37,1516.85 1415.8,1535.73 1418.8,1548 C1421.8,1560.27 1424.13,1570.73 1426,1578 C1427.87,1585.27 1428.28,1586.98 1430,1591.6 C1431.72,1596.22 1433.68,1601.52 1436.3,1605.7 C1438.92,1609.88 1441.5,1612.5 1445.7,1616.7 C1449.9,1620.9 1456.77,1626.97 1461.5,1630.9 C1466.23,1634.83 1470.17,1636.63 1474.1,1640.3 C1478.03,1643.97 1481.43,1647.92 1485.1,1652.9 C1488.77,1657.88 1492.7,1664.95 1496.1,1670.2 C1499.5,1675.45 1501.83,1680.47 1505.5,1684.4 C1509.17,1688.33 1512.33,1690.65 1518.1,1693.8 C1523.87,1696.95 1532.5,1700.42 1540.1,1703.3 C1547.7,1706.18 1555.83,1708.48 1563.7,1711.1 C1571.57,1713.72 1579.43,1717.15 1587.3,1719 C1595.17,1720.85 1604.33,1721.67 1610.9,1722.2 C1617.47,1722.73 1621.45,1723.25 1626.7,1722.2 C1631.95,1721.15 1637.68,1717.62 1642.4,1715.9 C1647.12,1714.18 1650.55,1712.43 1655,1711.9 C1659.45,1711.37 1664.38,1712.17 1669.1,1712.7 C1673.82,1713.23 1680.93,1714.7 1683.3,1715.1" fill="none" stroke="#1a0d05" stroke-width="1.9" stroke-dasharray="5 3"/>
<path d="M1018.4,1358.7H1684.4V1775" fill="none" stroke="#000" stroke-width="2.3"/>
<path d="M1018.4,1357.7V1776" fill="none" stroke="#000" stroke-width="2"/>
<path d="M1017.4,1775H1685.4" fill="none" stroke="#000" stroke-width="2.3"/>
<rect x="1448.3" y="1370" width="227.9" height="47.8" fill="#fff" stroke="#000" stroke-width="2"/>
<rect x="1463.3" y="1383.6" width="36" height="20.6" fill="#F8CBAD" stroke="#000" stroke-width="1.75" stroke-dasharray="5.5 4.4"/>
<text class="lg" x="1520.1" y="1399.8" textLength="133" lengthAdjust="spacingAndGlyphs">Optimal Q Range</text>
<g class="s" style="font-size:24px" text-anchor="end"><text x="982.4" y="1777.2">0</text><text x="982.4" y="1736.21">1,000</text><text x="982.4" y="1695.22">2,000</text><text x="982.4" y="1654.23">3,000</text><text x="982.4" y="1613.24">4,000</text><text x="982.4" y="1572.25">5,000</text><text x="982.4" y="1531.26">6,000</text><text x="982.4" y="1490.27">7,000</text><text x="982.4" y="1449.28">8,000</text><text x="982.4" y="1408.29">9,000</text><text x="982.4" y="1367.3">10,000</text></g>
<g class="s" text-anchor="middle" style="letter-spacing:0.5px"><text x="1016.3" y="1811">Aug06</text><text x="1149.3" y="1811">Aug07</text><text x="1282.3" y="1811">Aug08</text><text x="1415.3" y="1811">Aug09</text><text x="1548.3" y="1811">Aug10</text><text x="1681.3" y="1811">Aug11</text></g>
<text class="s" x="1349.75" y="1851.8" text-anchor="middle" style="letter-spacing:0.7px">Date</text>
<text class="s" transform="translate(894.3,1564.3) rotate(-90)" text-anchor="middle" textLength="176.3" lengthAdjust="spacingAndGlyphs">Dsicharge(m<tspan font-size="15" dy="-8">3</tspan><tspan dy="8">/s)</tspan></text>
</g>
</svg></body></html>
